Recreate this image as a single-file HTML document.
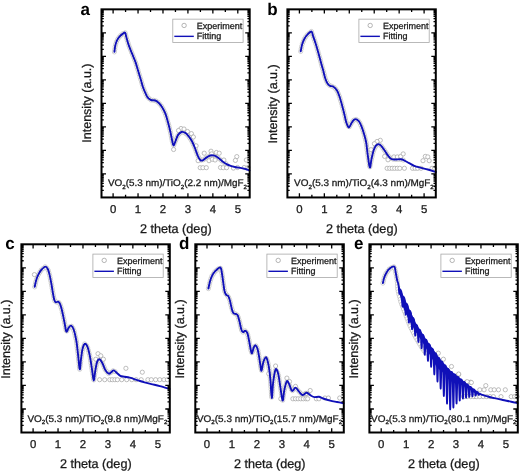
<!DOCTYPE html>
<html><head><meta charset="utf-8"><title>XRR fitting</title>
<style>
html,body{margin:0;padding:0;background:#fff;}
svg{display:block;font-family:'Liberation Sans', Arial, Helvetica, sans-serif;text-rendering:geometricPrecision;}
text{stroke:#1a1a1a;stroke-width:0.28px;}
text.pl{stroke:none;}
</style></head><body>
<svg width="520" height="472" viewBox="0 0 520 472">
<rect width="520" height="472" fill="#fff"/>
<g fill="#fff" stroke="#a2a2a2" stroke-width="0.7"><circle cx="114.4" cy="51.9" r="2.1" stroke="#bcbcbc"/><circle cx="114.8" cy="49.3" r="2.1" stroke="#bcbcbc"/><circle cx="115.1" cy="46.7" r="2.1" stroke="#bcbcbc"/><circle cx="115.7" cy="44.2" r="2.1" stroke="#bcbcbc"/><circle cx="116.5" cy="41.8" r="2.1" stroke="#bcbcbc"/><circle cx="117.6" cy="39.4" r="2.1" stroke="#bcbcbc"/><circle cx="119.1" cy="37.3" r="2.1" stroke="#bcbcbc"/><circle cx="120.8" cy="35.4" r="2.1" stroke="#bcbcbc"/><circle cx="122.8" cy="33.7" r="2.1" stroke="#bcbcbc"/><circle cx="125.1" cy="32.8" r="2.1" stroke="#bcbcbc"/><circle cx="125.8" cy="35.3" r="2.1" stroke="#bcbcbc"/><circle cx="126.5" cy="37.8" r="2.1" stroke="#bcbcbc"/><circle cx="127.3" cy="40.3" r="2.1" stroke="#bcbcbc"/><circle cx="128.0" cy="42.8" r="2.1" stroke="#bcbcbc"/><circle cx="128.8" cy="45.3" r="2.1" stroke="#bcbcbc"/><circle cx="129.7" cy="47.7" r="2.1" stroke="#bcbcbc"/><circle cx="130.7" cy="50.1" r="2.1" stroke="#bcbcbc"/><circle cx="131.6" cy="52.5" r="2.1" stroke="#bcbcbc"/><circle cx="132.6" cy="54.9" r="2.1" stroke="#bcbcbc"/><circle cx="133.6" cy="57.3" r="2.1" stroke="#bcbcbc"/><circle cx="134.5" cy="59.8" r="2.1" stroke="#bcbcbc"/><circle cx="135.5" cy="62.2" r="2.1" stroke="#bcbcbc"/><circle cx="136.3" cy="64.6" r="2.1" stroke="#bcbcbc"/><circle cx="137.0" cy="67.1" r="2.1" stroke="#bcbcbc"/><circle cx="137.8" cy="69.6" r="2.1" stroke="#bcbcbc"/><circle cx="138.5" cy="72.1" r="2.1" stroke="#bcbcbc"/><circle cx="139.3" cy="74.6" r="2.1" stroke="#bcbcbc"/><circle cx="140.0" cy="77.1" r="2.1" stroke="#bcbcbc"/><circle cx="140.8" cy="79.6" r="2.1" stroke="#bcbcbc"/><circle cx="141.5" cy="82.1" r="2.1" stroke="#bcbcbc"/><circle cx="142.3" cy="84.6" r="2.1" stroke="#bcbcbc"/><circle cx="143.0" cy="87.1" r="2.1" stroke="#bcbcbc"/><circle cx="143.9" cy="89.5" r="2.1" stroke="#bcbcbc"/><circle cx="144.9" cy="91.9" r="2.1" stroke="#bcbcbc"/><circle cx="146.0" cy="94.2" r="2.1" stroke="#bcbcbc"/><circle cx="147.2" cy="96.5" r="2.1" stroke="#bcbcbc"/><circle cx="148.9" cy="98.4" r="2.1" stroke="#bcbcbc"/><circle cx="151.0" cy="100.0" r="2.1" stroke="#bcbcbc"/><circle cx="153.6" cy="100.3" r="2.1" stroke="#bcbcbc"/><circle cx="156.0" cy="101.0" r="2.1" stroke="#bcbcbc"/><circle cx="158.2" cy="102.4" r="2.1" stroke="#bcbcbc"/><circle cx="159.9" cy="104.3" r="2.1" stroke="#bcbcbc"/><circle cx="161.6" cy="106.4" r="2.1" stroke="#bcbcbc"/><circle cx="162.9" cy="108.6" r="2.1" stroke="#bcbcbc"/><circle cx="164.0" cy="110.9" r="2.1" stroke="#bcbcbc"/><circle cx="165.2" cy="113.3" r="2.1" stroke="#bcbcbc"/><circle cx="166.0" cy="115.7" r="2.1" stroke="#bcbcbc"/><circle cx="166.8" cy="118.2" r="2.1" stroke="#bcbcbc"/><circle cx="167.5" cy="120.7" r="2.1" stroke="#bcbcbc"/><circle cx="168.2" cy="123.2" r="2.1" stroke="#bcbcbc"/><circle cx="168.9" cy="125.7" r="2.1" stroke="#bcbcbc"/><circle cx="169.5" cy="128.2" r="2.1" stroke="#bcbcbc"/><circle cx="170.1" cy="130.8" r="2.1" stroke="#bcbcbc"/><circle cx="170.7" cy="133.3" r="2.1" stroke="#bcbcbc"/><circle cx="171.2" cy="135.8" r="2.1" stroke="#bcbcbc"/><circle cx="171.7" cy="138.4" r="2.1" stroke="#bcbcbc"/><circle cx="172.2" cy="140.9" r="2.1" stroke="#bcbcbc"/><circle cx="173.0" cy="143.4" r="2.1" stroke="#bcbcbc"/><circle cx="173.7" cy="145.3" r="2.1" stroke="#bcbcbc"/><circle cx="174.7" cy="142.9" r="2.1" stroke="#bcbcbc"/><circle cx="175.7" cy="140.5" r="2.1" stroke="#bcbcbc"/><circle cx="176.7" cy="138.1" r="2.1" stroke="#bcbcbc"/><circle cx="177.8" cy="135.7" r="2.1" stroke="#bcbcbc"/><circle cx="179.4" cy="133.8" r="2.1" stroke="#bcbcbc"/><circle cx="181.4" cy="132.1" r="2.1" stroke="#bcbcbc"/><circle cx="183.9" cy="132.5" r="2.1" stroke="#bcbcbc"/><circle cx="186.1" cy="133.8" r="2.1" stroke="#bcbcbc"/><circle cx="188.0" cy="135.5" r="2.1" stroke="#bcbcbc"/><circle cx="189.5" cy="137.6" r="2.1" stroke="#bcbcbc"/><circle cx="191.0" cy="139.8" r="2.1" stroke="#bcbcbc"/><circle cx="192.2" cy="142.0" r="2.1" stroke="#bcbcbc"/><circle cx="193.3" cy="144.4" r="2.1" stroke="#bcbcbc"/><circle cx="194.3" cy="146.8" r="2.1" stroke="#bcbcbc"/><circle cx="195.4" cy="149.2" r="2.1" stroke="#bcbcbc"/><circle cx="196.2" cy="151.6" r="2.1" stroke="#bcbcbc"/><circle cx="197.1" cy="154.1" r="2.1" stroke="#bcbcbc"/><circle cx="198.2" cy="156.4" r="2.1" stroke="#bcbcbc"/><circle cx="199.5" cy="158.7" r="2.1" stroke="#bcbcbc"/><circle cx="201.3" cy="160.2" r="2.1" stroke="#bcbcbc"/><circle cx="203.6" cy="159.7" r="2.1" stroke="#bcbcbc"/><circle cx="205.7" cy="158.1" r="2.1" stroke="#bcbcbc"/><circle cx="207.9" cy="156.8" r="2.1" stroke="#bcbcbc"/><circle cx="210.2" cy="155.5" r="2.1" stroke="#bcbcbc"/><circle cx="212.8" cy="155.6" r="2.1" stroke="#bcbcbc"/><circle cx="215.3" cy="156.2" r="2.1" stroke="#bcbcbc"/><circle cx="217.5" cy="157.5" r="2.1" stroke="#bcbcbc"/><circle cx="219.6" cy="159.0" r="2.1" stroke="#bcbcbc"/><circle cx="221.6" cy="160.7" r="2.1" stroke="#bcbcbc"/><circle cx="223.7" cy="162.2" r="2.1" stroke="#bcbcbc"/><circle cx="225.9" cy="163.6" r="2.1" stroke="#bcbcbc"/><circle cx="173.6" cy="149.5" r="2.1"/><circle cx="191.4" cy="133.6" r="2.1"/><circle cx="193.4" cy="137.0" r="2.1"/><circle cx="196.1" cy="145.8" r="2.1"/><circle cx="204.2" cy="153.2" r="2.1"/><circle cx="211.0" cy="151.2" r="2.1"/><circle cx="211.7" cy="153.9" r="2.1"/><circle cx="216.4" cy="152.5" r="2.1"/><circle cx="219.2" cy="153.2" r="2.1"/><circle cx="198.1" cy="160.7" r="2.1"/><circle cx="209.0" cy="160.7" r="2.1"/><circle cx="212.4" cy="159.3" r="2.1"/><circle cx="215.1" cy="160.0" r="2.1"/><circle cx="223.9" cy="160.0" r="2.1"/><circle cx="200.2" cy="167.7" r="2.1"/><circle cx="202.9" cy="167.7" r="2.1"/><circle cx="206.3" cy="167.7" r="2.1"/><circle cx="220.5" cy="167.5" r="2.1"/><circle cx="223.2" cy="167.7" r="2.1"/><circle cx="226.6" cy="167.7" r="2.1"/><circle cx="236.8" cy="156.6" r="2.1"/><circle cx="235.4" cy="160.4" r="2.1"/><circle cx="246.3" cy="160.0" r="2.1"/><circle cx="233.4" cy="168.1" r="2.1"/><circle cx="237.5" cy="167.5" r="2.1"/><circle cx="244.2" cy="167.5" r="2.1"/><circle cx="248.0" cy="167.5" r="2.1"/><circle cx="181.0" cy="128.5" r="2.1"/><circle cx="184.0" cy="129.0" r="2.1"/><circle cx="187.5" cy="131.5" r="2.1"/><circle cx="178.5" cy="130.5" r="2.1"/></g>
<path d="M114.40 51.90 C114.55 50.82 114.87 47.33 115.30 45.40 C115.73 43.47 116.30 41.77 117.00 40.30 C117.70 38.83 118.52 37.72 119.50 36.60 C120.48 35.48 121.97 34.25 122.90 33.60 C123.83 32.95 124.53 32.13 125.10 32.70 C125.67 33.27 125.68 34.88 126.30 37.00 C126.92 39.12 127.82 42.58 128.80 45.40 C129.78 48.22 131.07 51.07 132.20 53.90 C133.33 56.73 134.62 59.58 135.60 62.40 C136.58 65.22 137.25 67.98 138.10 70.80 C138.95 73.62 139.85 76.47 140.70 79.30 C141.55 82.13 142.40 85.48 143.20 87.80 C144.00 90.12 144.73 91.57 145.50 93.20 C146.27 94.83 146.88 96.47 147.80 97.60 C148.72 98.73 149.75 99.52 151.00 100.00 C152.25 100.48 154.03 100.05 155.30 100.50 C156.57 100.95 157.48 101.63 158.60 102.70 C159.72 103.77 160.87 105.07 162.00 106.90 C163.13 108.73 164.40 111.15 165.40 113.70 C166.40 116.25 167.15 119.08 168.00 122.20 C168.85 125.32 169.80 129.30 170.50 132.40 C171.20 135.50 171.68 138.60 172.20 140.80 C172.72 143.00 173.03 145.60 173.60 145.60 C174.17 145.60 174.85 142.58 175.60 140.80 C176.35 139.02 177.12 136.37 178.10 134.90 C179.08 133.43 180.37 132.37 181.50 132.00 C182.63 131.63 183.77 132.07 184.90 132.70 C186.03 133.33 187.17 134.45 188.30 135.80 C189.43 137.15 190.57 138.68 191.70 140.80 C192.83 142.92 194.12 146.08 195.10 148.50 C196.08 150.92 196.75 153.38 197.60 155.30 C198.45 157.22 199.35 159.15 200.20 160.00 C201.05 160.85 201.68 160.80 202.70 160.40 C203.72 160.00 205.03 158.42 206.30 157.60 C207.57 156.78 208.95 155.82 210.30 155.50 C211.65 155.18 213.03 155.28 214.40 155.70 C215.77 156.12 217.15 157.05 218.50 158.00 C219.85 158.95 221.15 160.38 222.50 161.40 C223.85 162.42 225.23 163.37 226.60 164.10 C227.97 164.83 229.12 165.28 230.70 165.80 C232.28 166.32 234.30 166.82 236.10 167.20 C237.90 167.58 239.70 167.72 241.50 168.10 C243.30 168.48 245.57 169.10 246.90 169.50 C248.23 169.90 249.07 170.33 249.50 170.50" fill="none" stroke="#1010b8" stroke-width="1.9" stroke-linejoin="round" stroke-linecap="round"/>
<rect x="101.50" y="9.35" width="148.20" height="188.10" fill="none" stroke="#000" stroke-width="2"/>
<path d="M113.10 197.45 v-4.20 M113.10 9.35 v4.20 M125.57 197.45 v-2.60 M125.57 9.35 v2.60 M138.04 197.45 v-4.20 M138.04 9.35 v4.20 M150.51 197.45 v-2.60 M150.51 9.35 v2.60 M162.98 197.45 v-4.20 M162.98 9.35 v4.20 M175.45 197.45 v-2.60 M175.45 9.35 v2.60 M187.92 197.45 v-4.20 M187.92 9.35 v4.20 M200.39 197.45 v-2.60 M200.39 9.35 v2.60 M212.86 197.45 v-4.20 M212.86 9.35 v4.20 M225.33 197.45 v-2.60 M225.33 9.35 v2.60 M237.80 197.45 v-4.20 M237.80 9.35 v4.20 M101.50 25.78 h2.30 M249.70 25.78 h-2.30 M101.50 21.64 h2.30 M249.70 21.64 h-2.30 M101.50 18.71 h2.30 M249.70 18.71 h-2.30 M101.50 16.43 h2.30 M249.70 16.43 h-2.30 M101.50 14.57 h2.30 M249.70 14.57 h-2.30 M101.50 12.99 h2.30 M249.70 12.99 h-2.30 M101.50 11.63 h2.30 M249.70 11.63 h-2.30 M101.50 10.43 h2.30 M249.70 10.43 h-2.30 M101.50 32.86 h4.50 M249.70 32.86 h-4.50 M101.50 49.30 h2.30 M249.70 49.30 h-2.30 M101.50 45.16 h2.30 M249.70 45.16 h-2.30 M101.50 42.22 h2.30 M249.70 42.22 h-2.30 M101.50 39.94 h2.30 M249.70 39.94 h-2.30 M101.50 38.08 h2.30 M249.70 38.08 h-2.30 M101.50 36.50 h2.30 M249.70 36.50 h-2.30 M101.50 35.14 h2.30 M249.70 35.14 h-2.30 M101.50 33.94 h2.30 M249.70 33.94 h-2.30 M101.50 56.38 h4.50 M249.70 56.38 h-4.50 M101.50 72.81 h2.30 M249.70 72.81 h-2.30 M101.50 68.67 h2.30 M249.70 68.67 h-2.30 M101.50 65.73 h2.30 M249.70 65.73 h-2.30 M101.50 63.45 h2.30 M249.70 63.45 h-2.30 M101.50 61.59 h2.30 M249.70 61.59 h-2.30 M101.50 60.02 h2.30 M249.70 60.02 h-2.30 M101.50 58.65 h2.30 M249.70 58.65 h-2.30 M101.50 57.45 h2.30 M249.70 57.45 h-2.30 M101.50 79.89 h4.50 M249.70 79.89 h-4.50 M101.50 96.32 h2.30 M249.70 96.32 h-2.30 M101.50 92.18 h2.30 M249.70 92.18 h-2.30 M101.50 89.24 h2.30 M249.70 89.24 h-2.30 M101.50 86.97 h2.30 M249.70 86.97 h-2.30 M101.50 85.10 h2.30 M249.70 85.10 h-2.30 M101.50 83.53 h2.30 M249.70 83.53 h-2.30 M101.50 82.17 h2.30 M249.70 82.17 h-2.30 M101.50 80.96 h2.30 M249.70 80.96 h-2.30 M101.50 103.40 h4.50 M249.70 103.40 h-4.50 M101.50 119.83 h2.30 M249.70 119.83 h-2.30 M101.50 115.69 h2.30 M249.70 115.69 h-2.30 M101.50 112.76 h2.30 M249.70 112.76 h-2.30 M101.50 110.48 h2.30 M249.70 110.48 h-2.30 M101.50 108.62 h2.30 M249.70 108.62 h-2.30 M101.50 107.04 h2.30 M249.70 107.04 h-2.30 M101.50 105.68 h2.30 M249.70 105.68 h-2.30 M101.50 104.48 h2.30 M249.70 104.48 h-2.30 M101.50 126.91 h4.50 M249.70 126.91 h-4.50 M101.50 143.35 h2.30 M249.70 143.35 h-2.30 M101.50 139.21 h2.30 M249.70 139.21 h-2.30 M101.50 136.27 h2.30 M249.70 136.27 h-2.30 M101.50 133.99 h2.30 M249.70 133.99 h-2.30 M101.50 132.13 h2.30 M249.70 132.13 h-2.30 M101.50 130.55 h2.30 M249.70 130.55 h-2.30 M101.50 129.19 h2.30 M249.70 129.19 h-2.30 M101.50 127.99 h2.30 M249.70 127.99 h-2.30 M101.50 150.42 h4.50 M249.70 150.42 h-4.50 M101.50 166.86 h2.30 M249.70 166.86 h-2.30 M101.50 162.72 h2.30 M249.70 162.72 h-2.30 M101.50 159.78 h2.30 M249.70 159.78 h-2.30 M101.50 157.50 h2.30 M249.70 157.50 h-2.30 M101.50 155.64 h2.30 M249.70 155.64 h-2.30 M101.50 154.07 h2.30 M249.70 154.07 h-2.30 M101.50 152.70 h2.30 M249.70 152.70 h-2.30 M101.50 151.50 h2.30 M249.70 151.50 h-2.30 M101.50 173.94 h4.50 M249.70 173.94 h-4.50 M101.50 190.37 h2.30 M249.70 190.37 h-2.30 M101.50 186.23 h2.30 M249.70 186.23 h-2.30 M101.50 183.29 h2.30 M249.70 183.29 h-2.30 M101.50 181.02 h2.30 M249.70 181.02 h-2.30 M101.50 179.15 h2.30 M249.70 179.15 h-2.30 M101.50 177.58 h2.30 M249.70 177.58 h-2.30 M101.50 176.22 h2.30 M249.70 176.22 h-2.30 M101.50 175.01 h2.30 M249.70 175.01 h-2.30" stroke="#000" stroke-width="1.3" fill="none"/>
<text x="113.10" y="212.95" font-size="11.4" text-anchor="middle" fill="#1a1a1a">0</text>
<text x="138.04" y="212.95" font-size="11.4" text-anchor="middle" fill="#1a1a1a">1</text>
<text x="162.98" y="212.95" font-size="11.4" text-anchor="middle" fill="#1a1a1a">2</text>
<text x="187.92" y="212.95" font-size="11.4" text-anchor="middle" fill="#1a1a1a">3</text>
<text x="212.86" y="212.95" font-size="11.4" text-anchor="middle" fill="#1a1a1a">4</text>
<text x="237.80" y="212.95" font-size="11.4" text-anchor="middle" fill="#1a1a1a">5</text>
<text x="175.80" y="232.95" font-size="12.65" text-anchor="middle" fill="#1a1a1a">2 theta (deg)</text>
<text transform="translate(90.50 103.10) rotate(-90)" font-size="12.5" text-anchor="middle" fill="#1a1a1a">Intensity (a.u.)</text>
<text x="80.60" y="14.70" class="pl" font-size="17" font-weight="bold" fill="#000">a</text>
<rect x="172.80" y="19.15" width="70.30" height="23.30" fill="#fff" stroke="#a8a8a8" stroke-width="0.8"/>
<circle cx="184.10" cy="25.45" r="2.2" fill="#fff" stroke="#a2a2a2" stroke-width="0.8"/>
<path d="M174.30 36.35 h19.5" stroke="#1010b8" stroke-width="1.4"/>
<text x="196.80" y="28.55" font-size="9" fill="#1a1a1a">Experiment</text>
<text x="196.80" y="39.35" font-size="9" fill="#1a1a1a">Fitting</text>
<text transform="translate(107.90 186.30) scale(1.0270 1)" font-size="9.65" fill="#1a1a1a">VO<tspan font-size="6" dy="2.3">2</tspan><tspan dy="-2.3">(5.3 nm)/TiO</tspan><tspan font-size="6" dy="2.3">2</tspan><tspan dy="-2.3">(2.2 nm)/MgF</tspan><tspan font-size="6" dy="2.3">2</tspan></text>
<g fill="#fff" stroke="#a2a2a2" stroke-width="0.7"><circle cx="300.7" cy="51.4" r="2.1" stroke="#bcbcbc"/><circle cx="301.2" cy="48.9" r="2.1" stroke="#bcbcbc"/><circle cx="301.7" cy="46.3" r="2.1" stroke="#bcbcbc"/><circle cx="302.4" cy="43.8" r="2.1" stroke="#bcbcbc"/><circle cx="303.4" cy="41.4" r="2.1" stroke="#bcbcbc"/><circle cx="304.3" cy="39.0" r="2.1" stroke="#bcbcbc"/><circle cx="305.8" cy="36.8" r="2.1" stroke="#bcbcbc"/><circle cx="307.4" cy="34.8" r="2.1" stroke="#bcbcbc"/><circle cx="309.4" cy="33.1" r="2.1" stroke="#bcbcbc"/><circle cx="311.4" cy="31.5" r="2.1" stroke="#bcbcbc"/><circle cx="312.3" cy="34.0" r="2.1" stroke="#bcbcbc"/><circle cx="313.2" cy="36.4" r="2.1" stroke="#bcbcbc"/><circle cx="314.0" cy="38.9" r="2.1" stroke="#bcbcbc"/><circle cx="314.9" cy="41.3" r="2.1" stroke="#bcbcbc"/><circle cx="315.7" cy="43.8" r="2.1" stroke="#bcbcbc"/><circle cx="316.5" cy="46.3" r="2.1" stroke="#bcbcbc"/><circle cx="317.2" cy="48.8" r="2.1" stroke="#bcbcbc"/><circle cx="317.9" cy="51.3" r="2.1" stroke="#bcbcbc"/><circle cx="318.6" cy="53.8" r="2.1" stroke="#bcbcbc"/><circle cx="319.3" cy="56.3" r="2.1" stroke="#bcbcbc"/><circle cx="320.0" cy="58.8" r="2.1" stroke="#bcbcbc"/><circle cx="320.6" cy="61.3" r="2.1" stroke="#bcbcbc"/><circle cx="321.3" cy="63.8" r="2.1" stroke="#bcbcbc"/><circle cx="322.0" cy="66.3" r="2.1" stroke="#bcbcbc"/><circle cx="322.7" cy="68.8" r="2.1" stroke="#bcbcbc"/><circle cx="323.4" cy="71.3" r="2.1" stroke="#bcbcbc"/><circle cx="324.1" cy="73.8" r="2.1" stroke="#bcbcbc"/><circle cx="324.7" cy="76.3" r="2.1" stroke="#bcbcbc"/><circle cx="325.5" cy="78.8" r="2.1" stroke="#bcbcbc"/><circle cx="326.5" cy="81.2" r="2.1" stroke="#bcbcbc"/><circle cx="327.7" cy="83.5" r="2.1" stroke="#bcbcbc"/><circle cx="329.6" cy="85.3" r="2.1" stroke="#bcbcbc"/><circle cx="331.9" cy="86.3" r="2.1" stroke="#bcbcbc"/><circle cx="334.1" cy="87.4" r="2.1" stroke="#bcbcbc"/><circle cx="335.9" cy="89.3" r="2.1" stroke="#bcbcbc"/><circle cx="337.4" cy="91.4" r="2.1" stroke="#bcbcbc"/><circle cx="338.4" cy="93.8" r="2.1" stroke="#bcbcbc"/><circle cx="339.4" cy="96.2" r="2.1" stroke="#bcbcbc"/><circle cx="340.1" cy="98.7" r="2.1" stroke="#bcbcbc"/><circle cx="340.9" cy="101.2" r="2.1" stroke="#bcbcbc"/><circle cx="341.6" cy="103.7" r="2.1" stroke="#bcbcbc"/><circle cx="342.3" cy="106.2" r="2.1" stroke="#bcbcbc"/><circle cx="343.0" cy="108.7" r="2.1" stroke="#bcbcbc"/><circle cx="343.6" cy="111.2" r="2.1" stroke="#bcbcbc"/><circle cx="344.3" cy="113.7" r="2.1" stroke="#bcbcbc"/><circle cx="344.9" cy="116.3" r="2.1" stroke="#bcbcbc"/><circle cx="345.5" cy="118.8" r="2.1" stroke="#bcbcbc"/><circle cx="346.0" cy="121.3" r="2.1" stroke="#bcbcbc"/><circle cx="347.0" cy="123.7" r="2.1" stroke="#bcbcbc"/><circle cx="348.2" cy="126.1" r="2.1" stroke="#bcbcbc"/><circle cx="349.4" cy="126.7" r="2.1" stroke="#bcbcbc"/><circle cx="350.7" cy="124.4" r="2.1" stroke="#bcbcbc"/><circle cx="352.1" cy="122.2" r="2.1" stroke="#bcbcbc"/><circle cx="353.7" cy="120.2" r="2.1" stroke="#bcbcbc"/><circle cx="356.1" cy="119.4" r="2.1" stroke="#bcbcbc"/><circle cx="358.2" cy="120.7" r="2.1" stroke="#bcbcbc"/><circle cx="359.7" cy="122.7" r="2.1" stroke="#bcbcbc"/><circle cx="360.8" cy="125.1" r="2.1" stroke="#bcbcbc"/><circle cx="361.9" cy="127.4" r="2.1" stroke="#bcbcbc"/><circle cx="362.7" cy="129.9" r="2.1" stroke="#bcbcbc"/><circle cx="363.5" cy="132.4" r="2.1" stroke="#bcbcbc"/><circle cx="364.3" cy="134.9" r="2.1" stroke="#bcbcbc"/><circle cx="364.9" cy="137.4" r="2.1" stroke="#bcbcbc"/><circle cx="365.5" cy="139.9" r="2.1" stroke="#bcbcbc"/><circle cx="366.1" cy="142.4" r="2.1" stroke="#bcbcbc"/><circle cx="366.5" cy="145.0" r="2.1" stroke="#bcbcbc"/><circle cx="366.8" cy="147.6" r="2.1" stroke="#bcbcbc"/><circle cx="367.1" cy="150.2" r="2.1" stroke="#bcbcbc"/><circle cx="367.5" cy="152.8" r="2.1" stroke="#bcbcbc"/><circle cx="367.8" cy="155.3" r="2.1" stroke="#bcbcbc"/><circle cx="368.2" cy="157.9" r="2.1" stroke="#bcbcbc"/><circle cx="368.7" cy="160.5" r="2.1" stroke="#bcbcbc"/><circle cx="369.1" cy="163.0" r="2.1" stroke="#bcbcbc"/><circle cx="369.5" cy="165.6" r="2.1" stroke="#bcbcbc"/><circle cx="369.9" cy="166.8" r="2.1" stroke="#bcbcbc"/><circle cx="370.4" cy="164.3" r="2.1" stroke="#bcbcbc"/><circle cx="371.0" cy="161.7" r="2.1" stroke="#bcbcbc"/><circle cx="371.5" cy="159.2" r="2.1" stroke="#bcbcbc"/><circle cx="372.1" cy="156.7" r="2.1" stroke="#bcbcbc"/><circle cx="372.7" cy="154.1" r="2.1" stroke="#bcbcbc"/><circle cx="373.3" cy="151.6" r="2.1" stroke="#bcbcbc"/><circle cx="374.2" cy="149.2" r="2.1" stroke="#bcbcbc"/><circle cx="375.4" cy="146.9" r="2.1" stroke="#bcbcbc"/><circle cx="377.0" cy="145.0" r="2.1" stroke="#bcbcbc"/><circle cx="379.3" cy="144.6" r="2.1" stroke="#bcbcbc"/><circle cx="381.4" cy="146.1" r="2.1" stroke="#bcbcbc"/><circle cx="382.9" cy="148.2" r="2.1" stroke="#bcbcbc"/><circle cx="384.4" cy="150.3" r="2.1" stroke="#bcbcbc"/><circle cx="385.9" cy="152.4" r="2.1" stroke="#bcbcbc"/><circle cx="387.3" cy="154.6" r="2.1" stroke="#bcbcbc"/><circle cx="389.0" cy="156.6" r="2.1" stroke="#bcbcbc"/><circle cx="390.8" cy="158.4" r="2.1" stroke="#bcbcbc"/><circle cx="393.2" cy="159.2" r="2.1" stroke="#bcbcbc"/><circle cx="395.8" cy="159.5" r="2.1" stroke="#bcbcbc"/><circle cx="398.4" cy="159.4" r="2.1" stroke="#bcbcbc"/><circle cx="401.0" cy="159.4" r="2.1" stroke="#bcbcbc"/><circle cx="403.4" cy="160.1" r="2.1" stroke="#bcbcbc"/><circle cx="380.3" cy="140.3" r="2.1"/><circle cx="377.0" cy="141.5" r="2.1"/><circle cx="374.4" cy="143.7" r="2.1"/><circle cx="371.0" cy="149.7" r="2.1"/><circle cx="384.6" cy="156.4" r="2.1"/><circle cx="388.0" cy="159.8" r="2.1"/><circle cx="393.9" cy="156.9" r="2.1"/><circle cx="397.3" cy="156.9" r="2.1"/><circle cx="400.7" cy="156.4" r="2.1"/><circle cx="403.2" cy="153.9" r="2.1"/><circle cx="425.3" cy="156.4" r="2.1"/><circle cx="427.8" cy="156.9" r="2.1"/><circle cx="423.0" cy="160.7" r="2.1"/><circle cx="429.2" cy="160.7" r="2.1"/><circle cx="387.1" cy="168.3" r="2.1"/><circle cx="389.7" cy="168.3" r="2.1"/><circle cx="392.2" cy="168.3" r="2.1"/><circle cx="394.7" cy="168.3" r="2.1"/><circle cx="397.3" cy="168.3" r="2.1"/><circle cx="399.8" cy="168.3" r="2.1"/><circle cx="404.4" cy="168.3" r="2.1"/><circle cx="412.5" cy="168.3" r="2.1"/><circle cx="415.1" cy="168.3" r="2.1"/><circle cx="417.6" cy="168.3" r="2.1"/><circle cx="421.0" cy="168.3" r="2.1"/><circle cx="432.0" cy="168.3" r="2.1"/><circle cx="434.6" cy="168.3" r="2.1"/></g>
<path d="M300.70 51.40 C300.93 50.27 301.50 46.67 302.10 44.60 C302.70 42.53 303.45 40.62 304.30 39.00 C305.15 37.38 306.02 36.15 307.20 34.90 C308.38 33.65 310.42 31.30 311.40 31.50 C312.38 31.70 312.38 34.07 313.10 36.10 C313.82 38.13 314.85 41.02 315.70 43.70 C316.55 46.38 317.37 49.23 318.20 52.20 C319.03 55.17 319.85 58.40 320.70 61.50 C321.55 64.60 322.53 67.97 323.30 70.80 C324.07 73.63 324.60 76.40 325.30 78.50 C326.00 80.60 326.70 82.18 327.50 83.40 C328.30 84.62 329.10 85.25 330.10 85.80 C331.10 86.35 332.35 85.92 333.50 86.70 C334.65 87.48 336.00 88.87 337.00 90.50 C338.00 92.13 338.65 94.02 339.50 96.50 C340.35 98.98 341.30 102.50 342.10 105.40 C342.90 108.30 343.60 111.07 344.30 113.90 C345.00 116.73 345.53 120.13 346.30 122.40 C347.07 124.67 348.05 127.37 348.90 127.50 C349.75 127.63 350.55 124.48 351.40 123.20 C352.25 121.92 353.15 120.45 354.00 119.80 C354.85 119.15 355.65 119.02 356.50 119.30 C357.35 119.58 358.25 120.28 359.10 121.50 C359.95 122.72 360.77 124.48 361.60 126.60 C362.43 128.72 363.33 131.52 364.10 134.20 C364.87 136.88 365.62 139.42 366.20 142.70 C366.78 145.98 367.00 149.77 367.60 153.90 C368.20 158.03 369.15 166.65 369.80 167.50 C370.45 168.35 370.87 161.83 371.50 159.00 C372.13 156.17 372.83 152.77 373.60 150.50 C374.37 148.23 375.27 146.45 376.10 145.40 C376.93 144.35 377.75 144.13 378.60 144.20 C379.45 144.27 380.20 144.75 381.20 145.80 C382.20 146.85 383.47 148.87 384.60 150.50 C385.73 152.13 386.87 154.18 388.00 155.60 C389.13 157.02 390.13 158.35 391.40 159.00 C392.67 159.65 394.05 159.45 395.60 159.50 C397.15 159.55 399.28 159.17 400.70 159.30 C402.12 159.43 402.68 159.65 404.10 160.30 C405.52 160.95 407.52 162.28 409.20 163.20 C410.88 164.12 412.23 165.03 414.20 165.80 C416.17 166.57 418.73 167.18 421.00 167.80 C423.27 168.42 425.30 168.80 427.80 169.50 C430.30 170.20 434.63 171.58 436.00 172.00" fill="none" stroke="#1010b8" stroke-width="1.9" stroke-linejoin="round" stroke-linecap="round"/>
<rect x="287.40" y="9.35" width="148.40" height="188.10" fill="none" stroke="#000" stroke-width="2"/>
<path d="M299.40 197.45 v-4.20 M299.40 9.35 v4.20 M311.87 197.45 v-2.60 M311.87 9.35 v2.60 M324.34 197.45 v-4.20 M324.34 9.35 v4.20 M336.81 197.45 v-2.60 M336.81 9.35 v2.60 M349.28 197.45 v-4.20 M349.28 9.35 v4.20 M361.75 197.45 v-2.60 M361.75 9.35 v2.60 M374.22 197.45 v-4.20 M374.22 9.35 v4.20 M386.69 197.45 v-2.60 M386.69 9.35 v2.60 M399.16 197.45 v-4.20 M399.16 9.35 v4.20 M411.63 197.45 v-2.60 M411.63 9.35 v2.60 M424.10 197.45 v-4.20 M424.10 9.35 v4.20 M287.40 25.78 h2.30 M435.80 25.78 h-2.30 M287.40 21.64 h2.30 M435.80 21.64 h-2.30 M287.40 18.71 h2.30 M435.80 18.71 h-2.30 M287.40 16.43 h2.30 M435.80 16.43 h-2.30 M287.40 14.57 h2.30 M435.80 14.57 h-2.30 M287.40 12.99 h2.30 M435.80 12.99 h-2.30 M287.40 11.63 h2.30 M435.80 11.63 h-2.30 M287.40 10.43 h2.30 M435.80 10.43 h-2.30 M287.40 32.86 h4.50 M435.80 32.86 h-4.50 M287.40 49.30 h2.30 M435.80 49.30 h-2.30 M287.40 45.16 h2.30 M435.80 45.16 h-2.30 M287.40 42.22 h2.30 M435.80 42.22 h-2.30 M287.40 39.94 h2.30 M435.80 39.94 h-2.30 M287.40 38.08 h2.30 M435.80 38.08 h-2.30 M287.40 36.50 h2.30 M435.80 36.50 h-2.30 M287.40 35.14 h2.30 M435.80 35.14 h-2.30 M287.40 33.94 h2.30 M435.80 33.94 h-2.30 M287.40 56.38 h4.50 M435.80 56.38 h-4.50 M287.40 72.81 h2.30 M435.80 72.81 h-2.30 M287.40 68.67 h2.30 M435.80 68.67 h-2.30 M287.40 65.73 h2.30 M435.80 65.73 h-2.30 M287.40 63.45 h2.30 M435.80 63.45 h-2.30 M287.40 61.59 h2.30 M435.80 61.59 h-2.30 M287.40 60.02 h2.30 M435.80 60.02 h-2.30 M287.40 58.65 h2.30 M435.80 58.65 h-2.30 M287.40 57.45 h2.30 M435.80 57.45 h-2.30 M287.40 79.89 h4.50 M435.80 79.89 h-4.50 M287.40 96.32 h2.30 M435.80 96.32 h-2.30 M287.40 92.18 h2.30 M435.80 92.18 h-2.30 M287.40 89.24 h2.30 M435.80 89.24 h-2.30 M287.40 86.97 h2.30 M435.80 86.97 h-2.30 M287.40 85.10 h2.30 M435.80 85.10 h-2.30 M287.40 83.53 h2.30 M435.80 83.53 h-2.30 M287.40 82.17 h2.30 M435.80 82.17 h-2.30 M287.40 80.96 h2.30 M435.80 80.96 h-2.30 M287.40 103.40 h4.50 M435.80 103.40 h-4.50 M287.40 119.83 h2.30 M435.80 119.83 h-2.30 M287.40 115.69 h2.30 M435.80 115.69 h-2.30 M287.40 112.76 h2.30 M435.80 112.76 h-2.30 M287.40 110.48 h2.30 M435.80 110.48 h-2.30 M287.40 108.62 h2.30 M435.80 108.62 h-2.30 M287.40 107.04 h2.30 M435.80 107.04 h-2.30 M287.40 105.68 h2.30 M435.80 105.68 h-2.30 M287.40 104.48 h2.30 M435.80 104.48 h-2.30 M287.40 126.91 h4.50 M435.80 126.91 h-4.50 M287.40 143.35 h2.30 M435.80 143.35 h-2.30 M287.40 139.21 h2.30 M435.80 139.21 h-2.30 M287.40 136.27 h2.30 M435.80 136.27 h-2.30 M287.40 133.99 h2.30 M435.80 133.99 h-2.30 M287.40 132.13 h2.30 M435.80 132.13 h-2.30 M287.40 130.55 h2.30 M435.80 130.55 h-2.30 M287.40 129.19 h2.30 M435.80 129.19 h-2.30 M287.40 127.99 h2.30 M435.80 127.99 h-2.30 M287.40 150.42 h4.50 M435.80 150.42 h-4.50 M287.40 166.86 h2.30 M435.80 166.86 h-2.30 M287.40 162.72 h2.30 M435.80 162.72 h-2.30 M287.40 159.78 h2.30 M435.80 159.78 h-2.30 M287.40 157.50 h2.30 M435.80 157.50 h-2.30 M287.40 155.64 h2.30 M435.80 155.64 h-2.30 M287.40 154.07 h2.30 M435.80 154.07 h-2.30 M287.40 152.70 h2.30 M435.80 152.70 h-2.30 M287.40 151.50 h2.30 M435.80 151.50 h-2.30 M287.40 173.94 h4.50 M435.80 173.94 h-4.50 M287.40 190.37 h2.30 M435.80 190.37 h-2.30 M287.40 186.23 h2.30 M435.80 186.23 h-2.30 M287.40 183.29 h2.30 M435.80 183.29 h-2.30 M287.40 181.02 h2.30 M435.80 181.02 h-2.30 M287.40 179.15 h2.30 M435.80 179.15 h-2.30 M287.40 177.58 h2.30 M435.80 177.58 h-2.30 M287.40 176.22 h2.30 M435.80 176.22 h-2.30 M287.40 175.01 h2.30 M435.80 175.01 h-2.30" stroke="#000" stroke-width="1.3" fill="none"/>
<text x="299.40" y="212.95" font-size="11.4" text-anchor="middle" fill="#1a1a1a">0</text>
<text x="324.34" y="212.95" font-size="11.4" text-anchor="middle" fill="#1a1a1a">1</text>
<text x="349.28" y="212.95" font-size="11.4" text-anchor="middle" fill="#1a1a1a">2</text>
<text x="374.22" y="212.95" font-size="11.4" text-anchor="middle" fill="#1a1a1a">3</text>
<text x="399.16" y="212.95" font-size="11.4" text-anchor="middle" fill="#1a1a1a">4</text>
<text x="424.10" y="212.95" font-size="11.4" text-anchor="middle" fill="#1a1a1a">5</text>
<text x="361.80" y="232.95" font-size="12.65" text-anchor="middle" fill="#1a1a1a">2 theta (deg)</text>
<text transform="translate(277.00 103.90) rotate(-90)" font-size="12.5" text-anchor="middle" fill="#1a1a1a">Intensity (a.u.)</text>
<text x="267.30" y="14.80" class="pl" font-size="17" font-weight="bold" fill="#000">b</text>
<rect x="358.90" y="19.15" width="70.30" height="23.30" fill="#fff" stroke="#a8a8a8" stroke-width="0.8"/>
<circle cx="370.20" cy="25.45" r="2.2" fill="#fff" stroke="#a2a2a2" stroke-width="0.8"/>
<path d="M360.40 36.35 h19.5" stroke="#1010b8" stroke-width="1.4"/>
<text x="382.90" y="28.55" font-size="9" fill="#1a1a1a">Experiment</text>
<text x="382.90" y="39.35" font-size="9" fill="#1a1a1a">Fitting</text>
<text transform="translate(294.10 186.30) scale(1.0320 1)" font-size="9.65" fill="#1a1a1a">VO<tspan font-size="6" dy="2.3">2</tspan><tspan dy="-2.3">(5.3 nm)/TiO</tspan><tspan font-size="6" dy="2.3">2</tspan><tspan dy="-2.3">(4.3 nm)/MgF</tspan><tspan font-size="6" dy="2.3">2</tspan></text>
<g fill="#fff" stroke="#a2a2a2" stroke-width="0.7"><circle cx="34.7" cy="286.9" r="2.1" stroke="#bcbcbc"/><circle cx="35.3" cy="284.4" r="2.1" stroke="#bcbcbc"/><circle cx="35.8" cy="281.8" r="2.1" stroke="#bcbcbc"/><circle cx="36.5" cy="279.3" r="2.1" stroke="#bcbcbc"/><circle cx="37.4" cy="276.9" r="2.1" stroke="#bcbcbc"/><circle cx="38.4" cy="274.5" r="2.1" stroke="#bcbcbc"/><circle cx="39.8" cy="272.3" r="2.1" stroke="#bcbcbc"/><circle cx="41.2" cy="270.1" r="2.1" stroke="#bcbcbc"/><circle cx="43.2" cy="268.4" r="2.1" stroke="#bcbcbc"/><circle cx="45.2" cy="266.8" r="2.1" stroke="#bcbcbc"/><circle cx="46.9" cy="268.3" r="2.1" stroke="#bcbcbc"/><circle cx="48.3" cy="270.5" r="2.1" stroke="#bcbcbc"/><circle cx="49.0" cy="273.0" r="2.1" stroke="#bcbcbc"/><circle cx="49.7" cy="275.5" r="2.1" stroke="#bcbcbc"/><circle cx="50.2" cy="278.0" r="2.1" stroke="#bcbcbc"/><circle cx="50.7" cy="280.6" r="2.1" stroke="#bcbcbc"/><circle cx="51.2" cy="283.1" r="2.1" stroke="#bcbcbc"/><circle cx="51.7" cy="285.7" r="2.1" stroke="#bcbcbc"/><circle cx="52.1" cy="288.2" r="2.1" stroke="#bcbcbc"/><circle cx="52.6" cy="290.8" r="2.1" stroke="#bcbcbc"/><circle cx="53.0" cy="293.4" r="2.1" stroke="#bcbcbc"/><circle cx="53.5" cy="295.9" r="2.1" stroke="#bcbcbc"/><circle cx="54.0" cy="298.5" r="2.1" stroke="#bcbcbc"/><circle cx="54.8" cy="300.9" r="2.1" stroke="#bcbcbc"/><circle cx="56.7" cy="302.1" r="2.1" stroke="#bcbcbc"/><circle cx="58.9" cy="302.5" r="2.1" stroke="#bcbcbc"/><circle cx="60.2" cy="304.7" r="2.1" stroke="#bcbcbc"/><circle cx="61.0" cy="307.1" r="2.1" stroke="#bcbcbc"/><circle cx="61.8" cy="309.6" r="2.1" stroke="#bcbcbc"/><circle cx="62.3" cy="312.2" r="2.1" stroke="#bcbcbc"/><circle cx="62.9" cy="314.7" r="2.1" stroke="#bcbcbc"/><circle cx="63.4" cy="317.3" r="2.1" stroke="#bcbcbc"/><circle cx="64.0" cy="319.8" r="2.1" stroke="#bcbcbc"/><circle cx="64.5" cy="322.4" r="2.1" stroke="#bcbcbc"/><circle cx="65.0" cy="324.9" r="2.1" stroke="#bcbcbc"/><circle cx="65.5" cy="327.4" r="2.1" stroke="#bcbcbc"/><circle cx="66.0" cy="330.0" r="2.1" stroke="#bcbcbc"/><circle cx="66.8" cy="331.0" r="2.1" stroke="#bcbcbc"/><circle cx="68.1" cy="328.7" r="2.1" stroke="#bcbcbc"/><circle cx="69.8" cy="326.8" r="2.1" stroke="#bcbcbc"/><circle cx="71.6" cy="326.3" r="2.1" stroke="#bcbcbc"/><circle cx="73.0" cy="328.4" r="2.1" stroke="#bcbcbc"/><circle cx="74.0" cy="330.8" r="2.1" stroke="#bcbcbc"/><circle cx="74.6" cy="333.3" r="2.1" stroke="#bcbcbc"/><circle cx="75.2" cy="335.9" r="2.1" stroke="#bcbcbc"/><circle cx="75.8" cy="338.4" r="2.1" stroke="#bcbcbc"/><circle cx="76.4" cy="340.9" r="2.1" stroke="#bcbcbc"/><circle cx="76.7" cy="343.5" r="2.1" stroke="#bcbcbc"/><circle cx="77.0" cy="346.1" r="2.1" stroke="#bcbcbc"/><circle cx="77.3" cy="348.7" r="2.1" stroke="#bcbcbc"/><circle cx="77.6" cy="351.3" r="2.1" stroke="#bcbcbc"/><circle cx="78.0" cy="353.8" r="2.1" stroke="#bcbcbc"/><circle cx="78.3" cy="356.4" r="2.1" stroke="#bcbcbc"/><circle cx="78.5" cy="359.0" r="2.1" stroke="#bcbcbc"/><circle cx="78.8" cy="361.6" r="2.1" stroke="#bcbcbc"/><circle cx="79.1" cy="364.2" r="2.1" stroke="#bcbcbc"/><circle cx="79.4" cy="366.8" r="2.1" stroke="#bcbcbc"/><circle cx="79.7" cy="369.3" r="2.1" stroke="#bcbcbc"/><circle cx="80.0" cy="366.7" r="2.1" stroke="#bcbcbc"/><circle cx="80.4" cy="364.1" r="2.1" stroke="#bcbcbc"/><circle cx="80.7" cy="361.5" r="2.1" stroke="#bcbcbc"/><circle cx="81.0" cy="358.9" r="2.1" stroke="#bcbcbc"/><circle cx="81.4" cy="356.4" r="2.1" stroke="#bcbcbc"/><circle cx="81.8" cy="353.8" r="2.1" stroke="#bcbcbc"/><circle cx="82.2" cy="351.2" r="2.1" stroke="#bcbcbc"/><circle cx="82.6" cy="348.7" r="2.1" stroke="#bcbcbc"/><circle cx="83.7" cy="346.3" r="2.1" stroke="#bcbcbc"/><circle cx="84.7" cy="343.9" r="2.1" stroke="#bcbcbc"/><circle cx="86.6" cy="345.7" r="2.1" stroke="#bcbcbc"/><circle cx="87.7" cy="347.9" r="2.1" stroke="#bcbcbc"/><circle cx="88.4" cy="350.4" r="2.1" stroke="#bcbcbc"/><circle cx="89.0" cy="353.0" r="2.1" stroke="#bcbcbc"/><circle cx="89.7" cy="355.5" r="2.1" stroke="#bcbcbc"/><circle cx="90.2" cy="358.0" r="2.1" stroke="#bcbcbc"/><circle cx="90.6" cy="360.6" r="2.1" stroke="#bcbcbc"/><circle cx="91.0" cy="363.2" r="2.1" stroke="#bcbcbc"/><circle cx="91.4" cy="365.7" r="2.1" stroke="#bcbcbc"/><circle cx="91.8" cy="368.3" r="2.1" stroke="#bcbcbc"/><circle cx="92.2" cy="370.9" r="2.1" stroke="#bcbcbc"/><circle cx="92.6" cy="373.4" r="2.1" stroke="#bcbcbc"/><circle cx="93.0" cy="376.0" r="2.1" stroke="#bcbcbc"/><circle cx="93.4" cy="378.6" r="2.1" stroke="#bcbcbc"/><circle cx="93.8" cy="379.9" r="2.1" stroke="#bcbcbc"/><circle cx="94.2" cy="377.3" r="2.1" stroke="#bcbcbc"/><circle cx="94.6" cy="374.7" r="2.1" stroke="#bcbcbc"/><circle cx="95.1" cy="372.2" r="2.1" stroke="#bcbcbc"/><circle cx="95.5" cy="369.6" r="2.1" stroke="#bcbcbc"/><circle cx="96.0" cy="367.1" r="2.1" stroke="#bcbcbc"/><circle cx="96.6" cy="364.5" r="2.1" stroke="#bcbcbc"/><circle cx="97.1" cy="362.0" r="2.1" stroke="#bcbcbc"/><circle cx="98.7" cy="360.0" r="2.1" stroke="#bcbcbc"/><circle cx="100.4" cy="360.6" r="2.1" stroke="#bcbcbc"/><circle cx="102.1" cy="362.6" r="2.1" stroke="#bcbcbc"/><circle cx="103.2" cy="365.0" r="2.1" stroke="#bcbcbc"/><circle cx="104.2" cy="367.4" r="2.1" stroke="#bcbcbc"/><circle cx="105.2" cy="369.7" r="2.1" stroke="#bcbcbc"/><circle cx="106.9" cy="371.7" r="2.1" stroke="#bcbcbc"/><circle cx="108.7" cy="373.6" r="2.1" stroke="#bcbcbc"/><circle cx="111.0" cy="372.4" r="2.1" stroke="#bcbcbc"/><circle cx="113.1" cy="370.8" r="2.1" stroke="#bcbcbc"/><circle cx="115.1" cy="371.6" r="2.1" stroke="#bcbcbc"/><circle cx="34.4" cy="274.6" r="2.1"/><circle cx="98.0" cy="353.7" r="2.1"/><circle cx="100.8" cy="355.8" r="2.1"/><circle cx="95.8" cy="359.2" r="2.1"/><circle cx="103.4" cy="359.2" r="2.1"/><circle cx="125.9" cy="368.3" r="2.1"/><circle cx="142.3" cy="372.2" r="2.1"/><circle cx="99.6" cy="379.7" r="2.1"/><circle cx="104.7" cy="379.7" r="2.1"/><circle cx="109.8" cy="379.7" r="2.1"/><circle cx="112.3" cy="379.7" r="2.1"/><circle cx="114.9" cy="379.7" r="2.1"/><circle cx="117.4" cy="379.7" r="2.1"/><circle cx="121.7" cy="379.7" r="2.1"/><circle cx="126.7" cy="379.7" r="2.1"/><circle cx="131.8" cy="379.7" r="2.1"/><circle cx="136.1" cy="379.7" r="2.1"/><circle cx="141.2" cy="379.7" r="2.1"/><circle cx="147.9" cy="379.7" r="2.1"/><circle cx="151.3" cy="379.7" r="2.1"/><circle cx="155.6" cy="379.7" r="2.1"/><circle cx="159.8" cy="379.7" r="2.1"/><circle cx="164.0" cy="379.7" r="2.1"/><circle cx="167.4" cy="379.7" r="2.1"/></g>
<path d="M34.70 286.90 C34.93 285.83 35.50 282.55 36.10 280.50 C36.70 278.45 37.45 276.35 38.30 274.60 C39.15 272.85 40.02 271.33 41.20 270.00 C42.38 268.67 44.27 266.68 45.40 266.60 C46.53 266.52 47.28 268.03 48.00 269.50 C48.72 270.97 49.13 273.00 49.70 275.40 C50.27 277.80 50.83 280.78 51.40 283.90 C51.97 287.02 52.60 291.37 53.10 294.10 C53.60 296.83 53.93 298.93 54.40 300.30 C54.87 301.67 55.28 302.07 55.90 302.30 C56.52 302.53 57.45 301.52 58.10 301.70 C58.75 301.88 59.23 302.27 59.80 303.40 C60.37 304.53 60.93 306.38 61.50 308.50 C62.07 310.62 62.67 313.60 63.20 316.10 C63.73 318.60 64.17 320.90 64.70 323.50 C65.23 326.10 65.75 330.98 66.40 331.70 C67.05 332.42 67.80 328.82 68.60 327.80 C69.40 326.78 70.35 325.32 71.20 325.60 C72.05 325.88 72.85 327.02 73.70 329.50 C74.55 331.98 75.58 336.40 76.30 340.50 C77.02 344.60 77.43 349.30 78.00 354.10 C78.57 358.90 79.20 368.45 79.70 369.30 C80.20 370.15 80.53 362.58 81.00 359.20 C81.47 355.82 81.88 351.55 82.50 349.00 C83.12 346.45 83.90 344.33 84.70 343.90 C85.50 343.47 86.45 344.42 87.30 346.40 C88.15 348.38 89.02 351.98 89.80 355.80 C90.58 359.62 91.35 365.18 92.00 369.30 C92.65 373.42 93.13 380.38 93.70 380.50 C94.27 380.62 94.82 373.13 95.40 370.00 C95.98 366.87 96.55 363.48 97.20 361.70 C97.85 359.92 98.47 359.13 99.30 359.30 C100.13 359.47 101.20 360.93 102.20 362.70 C103.20 364.47 104.22 368.08 105.30 369.90 C106.38 371.72 107.75 373.18 108.70 373.60 C109.65 374.02 110.18 372.93 111.00 372.40 C111.82 371.87 112.62 370.32 113.60 370.40 C114.58 370.48 115.78 372.00 116.90 372.90 C118.02 373.80 119.02 375.17 120.30 375.80 C121.58 376.43 123.03 376.38 124.60 376.70 C126.17 377.02 127.50 377.10 129.70 377.70 C131.90 378.30 135.33 379.52 137.80 380.30 C140.27 381.08 142.25 381.77 144.50 382.40 C146.75 383.03 148.75 383.48 151.30 384.10 C153.85 384.72 156.73 385.28 159.80 386.10 C162.87 386.92 168.05 388.52 169.70 389.00" fill="none" stroke="#1010b8" stroke-width="1.9" stroke-linejoin="round" stroke-linecap="round"/>
<rect x="21.40" y="244.30" width="148.40" height="188.20" fill="none" stroke="#000" stroke-width="2"/>
<path d="M33.10 432.50 v-4.20 M33.10 244.30 v4.20 M45.57 432.50 v-2.60 M45.57 244.30 v2.60 M58.04 432.50 v-4.20 M58.04 244.30 v4.20 M70.51 432.50 v-2.60 M70.51 244.30 v2.60 M82.98 432.50 v-4.20 M82.98 244.30 v4.20 M95.45 432.50 v-2.60 M95.45 244.30 v2.60 M107.92 432.50 v-4.20 M107.92 244.30 v4.20 M120.39 432.50 v-2.60 M120.39 244.30 v2.60 M132.86 432.50 v-4.20 M132.86 244.30 v4.20 M145.33 432.50 v-2.60 M145.33 244.30 v2.60 M157.80 432.50 v-4.20 M157.80 244.30 v4.20 M21.40 260.74 h2.30 M169.80 260.74 h-2.30 M21.40 256.60 h2.30 M169.80 256.60 h-2.30 M21.40 253.66 h2.30 M169.80 253.66 h-2.30 M21.40 251.38 h2.30 M169.80 251.38 h-2.30 M21.40 249.52 h2.30 M169.80 249.52 h-2.30 M21.40 247.94 h2.30 M169.80 247.94 h-2.30 M21.40 246.58 h2.30 M169.80 246.58 h-2.30 M21.40 245.38 h2.30 M169.80 245.38 h-2.30 M21.40 267.82 h4.50 M169.80 267.82 h-4.50 M21.40 284.27 h2.30 M169.80 284.27 h-2.30 M21.40 280.13 h2.30 M169.80 280.13 h-2.30 M21.40 277.19 h2.30 M169.80 277.19 h-2.30 M21.40 274.91 h2.30 M169.80 274.91 h-2.30 M21.40 273.04 h2.30 M169.80 273.04 h-2.30 M21.40 271.47 h2.30 M169.80 271.47 h-2.30 M21.40 270.10 h2.30 M169.80 270.10 h-2.30 M21.40 268.90 h2.30 M169.80 268.90 h-2.30 M21.40 291.35 h4.50 M169.80 291.35 h-4.50 M21.40 307.79 h2.30 M169.80 307.79 h-2.30 M21.40 303.65 h2.30 M169.80 303.65 h-2.30 M21.40 300.71 h2.30 M169.80 300.71 h-2.30 M21.40 298.43 h2.30 M169.80 298.43 h-2.30 M21.40 296.57 h2.30 M169.80 296.57 h-2.30 M21.40 294.99 h2.30 M169.80 294.99 h-2.30 M21.40 293.63 h2.30 M169.80 293.63 h-2.30 M21.40 292.43 h2.30 M169.80 292.43 h-2.30 M21.40 314.88 h4.50 M169.80 314.88 h-4.50 M21.40 331.32 h2.30 M169.80 331.32 h-2.30 M21.40 327.18 h2.30 M169.80 327.18 h-2.30 M21.40 324.24 h2.30 M169.80 324.24 h-2.30 M21.40 321.96 h2.30 M169.80 321.96 h-2.30 M21.40 320.09 h2.30 M169.80 320.09 h-2.30 M21.40 318.52 h2.30 M169.80 318.52 h-2.30 M21.40 317.15 h2.30 M169.80 317.15 h-2.30 M21.40 315.95 h2.30 M169.80 315.95 h-2.30 M21.40 338.40 h4.50 M169.80 338.40 h-4.50 M21.40 354.84 h2.30 M169.80 354.84 h-2.30 M21.40 350.70 h2.30 M169.80 350.70 h-2.30 M21.40 347.76 h2.30 M169.80 347.76 h-2.30 M21.40 345.48 h2.30 M169.80 345.48 h-2.30 M21.40 343.62 h2.30 M169.80 343.62 h-2.30 M21.40 342.04 h2.30 M169.80 342.04 h-2.30 M21.40 340.68 h2.30 M169.80 340.68 h-2.30 M21.40 339.48 h2.30 M169.80 339.48 h-2.30 M21.40 361.93 h4.50 M169.80 361.93 h-4.50 M21.40 378.37 h2.30 M169.80 378.37 h-2.30 M21.40 374.23 h2.30 M169.80 374.23 h-2.30 M21.40 371.29 h2.30 M169.80 371.29 h-2.30 M21.40 369.01 h2.30 M169.80 369.01 h-2.30 M21.40 367.14 h2.30 M169.80 367.14 h-2.30 M21.40 365.57 h2.30 M169.80 365.57 h-2.30 M21.40 364.20 h2.30 M169.80 364.20 h-2.30 M21.40 363.00 h2.30 M169.80 363.00 h-2.30 M21.40 385.45 h4.50 M169.80 385.45 h-4.50 M21.40 401.89 h2.30 M169.80 401.89 h-2.30 M21.40 397.75 h2.30 M169.80 397.75 h-2.30 M21.40 394.81 h2.30 M169.80 394.81 h-2.30 M21.40 392.53 h2.30 M169.80 392.53 h-2.30 M21.40 390.67 h2.30 M169.80 390.67 h-2.30 M21.40 389.09 h2.30 M169.80 389.09 h-2.30 M21.40 387.73 h2.30 M169.80 387.73 h-2.30 M21.40 386.53 h2.30 M169.80 386.53 h-2.30 M21.40 408.98 h4.50 M169.80 408.98 h-4.50 M21.40 425.42 h2.30 M169.80 425.42 h-2.30 M21.40 421.28 h2.30 M169.80 421.28 h-2.30 M21.40 418.34 h2.30 M169.80 418.34 h-2.30 M21.40 416.06 h2.30 M169.80 416.06 h-2.30 M21.40 414.19 h2.30 M169.80 414.19 h-2.30 M21.40 412.62 h2.30 M169.80 412.62 h-2.30 M21.40 411.25 h2.30 M169.80 411.25 h-2.30 M21.40 410.05 h2.30 M169.80 410.05 h-2.30" stroke="#000" stroke-width="1.3" fill="none"/>
<text x="33.10" y="448.00" font-size="11.4" text-anchor="middle" fill="#1a1a1a">0</text>
<text x="58.04" y="448.00" font-size="11.4" text-anchor="middle" fill="#1a1a1a">1</text>
<text x="82.98" y="448.00" font-size="11.4" text-anchor="middle" fill="#1a1a1a">2</text>
<text x="107.92" y="448.00" font-size="11.4" text-anchor="middle" fill="#1a1a1a">3</text>
<text x="132.86" y="448.00" font-size="11.4" text-anchor="middle" fill="#1a1a1a">4</text>
<text x="157.80" y="448.00" font-size="11.4" text-anchor="middle" fill="#1a1a1a">5</text>
<text x="95.80" y="468.00" font-size="12.65" text-anchor="middle" fill="#1a1a1a">2 theta (deg)</text>
<text transform="translate(10.40 339.20) rotate(-90)" font-size="12.5" text-anchor="middle" fill="#1a1a1a">Intensity (a.u.)</text>
<text x="5.20" y="249.30" class="pl" font-size="17" font-weight="bold" fill="#000">c</text>
<rect x="92.90" y="254.10" width="70.30" height="23.30" fill="#fff" stroke="#a8a8a8" stroke-width="0.8"/>
<circle cx="104.20" cy="260.40" r="2.2" fill="#fff" stroke="#a2a2a2" stroke-width="0.8"/>
<path d="M94.40 271.30 h19.5" stroke="#1010b8" stroke-width="1.4"/>
<text x="116.90" y="263.50" font-size="9" fill="#1a1a1a">Experiment</text>
<text x="116.90" y="274.30" font-size="9" fill="#1a1a1a">Fitting</text>
<text transform="translate(27.40 421.60) scale(1.0340 1)" font-size="9.65" fill="#1a1a1a">VO<tspan font-size="6" dy="2.3">2</tspan><tspan dy="-2.3">(5.3 nm)/TiO</tspan><tspan font-size="6" dy="2.3">2</tspan><tspan dy="-2.3">(9.8 nm)/MgF</tspan><tspan font-size="6" dy="2.3">2</tspan></text>
<g fill="#fff" stroke="#a2a2a2" stroke-width="0.7"><circle cx="208.4" cy="288.6" r="2.1" stroke="#bcbcbc"/><circle cx="209.0" cy="286.1" r="2.1" stroke="#bcbcbc"/><circle cx="209.5" cy="283.5" r="2.1" stroke="#bcbcbc"/><circle cx="210.2" cy="281.0" r="2.1" stroke="#bcbcbc"/><circle cx="211.0" cy="278.6" r="2.1" stroke="#bcbcbc"/><circle cx="211.9" cy="276.1" r="2.1" stroke="#bcbcbc"/><circle cx="213.4" cy="274.0" r="2.1" stroke="#bcbcbc"/><circle cx="214.8" cy="271.8" r="2.1" stroke="#bcbcbc"/><circle cx="216.7" cy="270.1" r="2.1" stroke="#bcbcbc"/><circle cx="218.8" cy="268.6" r="2.1" stroke="#bcbcbc"/><circle cx="220.5" cy="268.3" r="2.1" stroke="#bcbcbc"/><circle cx="221.2" cy="270.8" r="2.1" stroke="#bcbcbc"/><circle cx="221.9" cy="273.3" r="2.1" stroke="#bcbcbc"/><circle cx="222.3" cy="275.8" r="2.1" stroke="#bcbcbc"/><circle cx="222.7" cy="278.4" r="2.1" stroke="#bcbcbc"/><circle cx="223.0" cy="281.0" r="2.1" stroke="#bcbcbc"/><circle cx="223.4" cy="283.6" r="2.1" stroke="#bcbcbc"/><circle cx="223.8" cy="286.1" r="2.1" stroke="#bcbcbc"/><circle cx="224.2" cy="288.7" r="2.1" stroke="#bcbcbc"/><circle cx="224.6" cy="291.3" r="2.1" stroke="#bcbcbc"/><circle cx="225.7" cy="293.6" r="2.1" stroke="#bcbcbc"/><circle cx="227.3" cy="295.5" r="2.1" stroke="#bcbcbc"/><circle cx="228.7" cy="297.4" r="2.1" stroke="#bcbcbc"/><circle cx="229.7" cy="299.9" r="2.1" stroke="#bcbcbc"/><circle cx="230.3" cy="302.4" r="2.1" stroke="#bcbcbc"/><circle cx="230.9" cy="304.9" r="2.1" stroke="#bcbcbc"/><circle cx="231.5" cy="307.5" r="2.1" stroke="#bcbcbc"/><circle cx="232.3" cy="309.9" r="2.1" stroke="#bcbcbc"/><circle cx="233.1" cy="312.4" r="2.1" stroke="#bcbcbc"/><circle cx="235.1" cy="313.7" r="2.1" stroke="#bcbcbc"/><circle cx="237.3" cy="315.1" r="2.1" stroke="#bcbcbc"/><circle cx="238.3" cy="317.4" r="2.1" stroke="#bcbcbc"/><circle cx="239.0" cy="319.9" r="2.1" stroke="#bcbcbc"/><circle cx="239.7" cy="322.4" r="2.1" stroke="#bcbcbc"/><circle cx="240.3" cy="324.9" r="2.1" stroke="#bcbcbc"/><circle cx="240.9" cy="327.5" r="2.1" stroke="#bcbcbc"/><circle cx="241.5" cy="330.0" r="2.1" stroke="#bcbcbc"/><circle cx="243.0" cy="332.1" r="2.1" stroke="#bcbcbc"/><circle cx="245.1" cy="330.8" r="2.1" stroke="#bcbcbc"/><circle cx="246.9" cy="332.6" r="2.1" stroke="#bcbcbc"/><circle cx="247.8" cy="335.0" r="2.1" stroke="#bcbcbc"/><circle cx="248.4" cy="337.5" r="2.1" stroke="#bcbcbc"/><circle cx="249.0" cy="340.1" r="2.1" stroke="#bcbcbc"/><circle cx="249.4" cy="342.6" r="2.1" stroke="#bcbcbc"/><circle cx="249.9" cy="345.2" r="2.1" stroke="#bcbcbc"/><circle cx="250.4" cy="347.7" r="2.1" stroke="#bcbcbc"/><circle cx="250.9" cy="350.3" r="2.1" stroke="#bcbcbc"/><circle cx="251.8" cy="352.7" r="2.1" stroke="#bcbcbc"/><circle cx="252.5" cy="351.6" r="2.1" stroke="#bcbcbc"/><circle cx="253.2" cy="349.1" r="2.1" stroke="#bcbcbc"/><circle cx="254.3" cy="346.8" r="2.1" stroke="#bcbcbc"/><circle cx="255.9" cy="345.9" r="2.1" stroke="#bcbcbc"/><circle cx="257.1" cy="348.1" r="2.1" stroke="#bcbcbc"/><circle cx="257.9" cy="350.6" r="2.1" stroke="#bcbcbc"/><circle cx="258.4" cy="353.2" r="2.1" stroke="#bcbcbc"/><circle cx="258.9" cy="355.7" r="2.1" stroke="#bcbcbc"/><circle cx="259.3" cy="358.3" r="2.1" stroke="#bcbcbc"/><circle cx="259.7" cy="360.8" r="2.1" stroke="#bcbcbc"/><circle cx="260.1" cy="363.4" r="2.1" stroke="#bcbcbc"/><circle cx="260.5" cy="366.0" r="2.1" stroke="#bcbcbc"/><circle cx="261.0" cy="368.5" r="2.1" stroke="#bcbcbc"/><circle cx="261.6" cy="370.5" r="2.1" stroke="#bcbcbc"/><circle cx="262.1" cy="368.0" r="2.1" stroke="#bcbcbc"/><circle cx="262.6" cy="365.4" r="2.1" stroke="#bcbcbc"/><circle cx="263.2" cy="362.9" r="2.1" stroke="#bcbcbc"/><circle cx="264.2" cy="360.5" r="2.1" stroke="#bcbcbc"/><circle cx="265.4" cy="358.2" r="2.1" stroke="#bcbcbc"/><circle cx="266.5" cy="358.7" r="2.1" stroke="#bcbcbc"/><circle cx="267.6" cy="361.1" r="2.1" stroke="#bcbcbc"/><circle cx="268.1" cy="363.6" r="2.1" stroke="#bcbcbc"/><circle cx="268.6" cy="366.2" r="2.1" stroke="#bcbcbc"/><circle cx="269.1" cy="368.7" r="2.1" stroke="#bcbcbc"/><circle cx="269.5" cy="371.3" r="2.1" stroke="#bcbcbc"/><circle cx="269.7" cy="373.9" r="2.1" stroke="#bcbcbc"/><circle cx="270.0" cy="376.5" r="2.1" stroke="#bcbcbc"/><circle cx="270.3" cy="379.1" r="2.1" stroke="#bcbcbc"/><circle cx="270.6" cy="381.7" r="2.1" stroke="#bcbcbc"/><circle cx="270.7" cy="384.3" r="2.1" stroke="#bcbcbc"/><circle cx="270.9" cy="386.8" r="2.1" stroke="#bcbcbc"/><circle cx="271.1" cy="389.4" r="2.1" stroke="#bcbcbc"/><circle cx="271.3" cy="392.0" r="2.1" stroke="#bcbcbc"/><circle cx="271.5" cy="394.6" r="2.1" stroke="#bcbcbc"/><circle cx="271.7" cy="397.2" r="2.1" stroke="#bcbcbc"/><circle cx="272.0" cy="396.2" r="2.1" stroke="#bcbcbc"/><circle cx="272.2" cy="393.6" r="2.1" stroke="#bcbcbc"/><circle cx="272.4" cy="391.0" r="2.1" stroke="#bcbcbc"/><circle cx="272.6" cy="388.4" r="2.1" stroke="#bcbcbc"/><circle cx="272.9" cy="385.8" r="2.1" stroke="#bcbcbc"/><circle cx="273.1" cy="383.2" r="2.1" stroke="#bcbcbc"/><circle cx="273.5" cy="380.7" r="2.1" stroke="#bcbcbc"/><circle cx="273.9" cy="378.1" r="2.1" stroke="#bcbcbc"/><circle cx="274.4" cy="375.6" r="2.1" stroke="#bcbcbc"/><circle cx="274.9" cy="373.0" r="2.1" stroke="#bcbcbc"/><circle cx="275.4" cy="370.5" r="2.1" stroke="#bcbcbc"/><circle cx="276.4" cy="370.7" r="2.1" stroke="#bcbcbc"/><circle cx="277.7" cy="372.9" r="2.1" stroke="#bcbcbc"/><circle cx="278.5" cy="375.4" r="2.1" stroke="#bcbcbc"/><circle cx="278.9" cy="377.9" r="2.1" stroke="#bcbcbc"/><circle cx="279.3" cy="380.5" r="2.1" stroke="#bcbcbc"/><circle cx="279.7" cy="383.1" r="2.1" stroke="#bcbcbc"/><circle cx="280.1" cy="385.6" r="2.1" stroke="#bcbcbc"/><circle cx="280.6" cy="388.2" r="2.1" stroke="#bcbcbc"/><circle cx="281.0" cy="390.8" r="2.1" stroke="#bcbcbc"/><circle cx="281.4" cy="393.3" r="2.1" stroke="#bcbcbc"/><circle cx="281.8" cy="395.9" r="2.1" stroke="#bcbcbc"/><circle cx="282.2" cy="398.5" r="2.1" stroke="#bcbcbc"/><circle cx="282.7" cy="400.2" r="2.1" stroke="#bcbcbc"/><circle cx="283.1" cy="397.6" r="2.1" stroke="#bcbcbc"/><circle cx="283.5" cy="395.0" r="2.1" stroke="#bcbcbc"/><circle cx="283.9" cy="392.5" r="2.1" stroke="#bcbcbc"/><circle cx="284.4" cy="389.9" r="2.1" stroke="#bcbcbc"/><circle cx="285.1" cy="387.4" r="2.1" stroke="#bcbcbc"/><circle cx="285.8" cy="384.9" r="2.1" stroke="#bcbcbc"/><circle cx="286.6" cy="382.4" r="2.1" stroke="#bcbcbc"/><circle cx="287.7" cy="382.3" r="2.1" stroke="#bcbcbc"/><circle cx="289.1" cy="384.5" r="2.1" stroke="#bcbcbc"/><circle cx="290.3" cy="386.8" r="2.1" stroke="#bcbcbc"/><circle cx="291.3" cy="389.2" r="2.1" stroke="#bcbcbc"/><circle cx="292.5" cy="390.6" r="2.1" stroke="#bcbcbc"/><circle cx="294.4" cy="388.7" r="2.1" stroke="#bcbcbc"/><circle cx="296.2" cy="388.3" r="2.1" stroke="#bcbcbc"/><circle cx="297.9" cy="390.3" r="2.1" stroke="#bcbcbc"/><circle cx="299.6" cy="392.2" r="2.1" stroke="#bcbcbc"/><circle cx="301.5" cy="394.0" r="2.1" stroke="#bcbcbc"/><circle cx="303.6" cy="394.5" r="2.1" stroke="#bcbcbc"/><circle cx="305.9" cy="393.3" r="2.1" stroke="#bcbcbc"/><circle cx="308.1" cy="393.7" r="2.1" stroke="#bcbcbc"/><circle cx="275.6" cy="366.0" r="2.1"/><circle cx="286.9" cy="378.1" r="2.1"/><circle cx="289.5" cy="381.5" r="2.1"/><circle cx="295.5" cy="386.4" r="2.1"/><circle cx="310.2" cy="390.5" r="2.1"/><circle cx="305.9" cy="393.6" r="2.1"/><circle cx="280.8" cy="398.8" r="2.1"/><circle cx="268.7" cy="373.7" r="2.1"/><circle cx="316.3" cy="398.8" r="2.1"/><circle cx="318.9" cy="398.8" r="2.1"/><circle cx="325.0" cy="398.0" r="2.1"/><circle cx="328.4" cy="398.0" r="2.1"/><circle cx="339.7" cy="398.0" r="2.1"/><circle cx="292.9" cy="398.8" r="2.1"/><circle cx="295.5" cy="398.8" r="2.1"/><circle cx="298.1" cy="398.8" r="2.1"/><circle cx="300.7" cy="398.8" r="2.1"/><circle cx="303.3" cy="398.8" r="2.1"/><circle cx="305.9" cy="398.8" r="2.1"/><circle cx="307.7" cy="398.8" r="2.1"/></g>
<path d="M208.40 288.60 C208.63 287.53 209.23 284.25 209.80 282.20 C210.37 280.15 210.90 278.13 211.80 276.30 C212.70 274.47 213.78 272.67 215.20 271.20 C216.62 269.73 219.17 267.08 220.30 267.50 C221.43 267.92 221.52 271.25 222.00 273.70 C222.48 276.15 222.78 279.32 223.20 282.20 C223.62 285.08 224.00 288.88 224.50 291.00 C225.00 293.12 225.58 294.07 226.20 294.90 C226.82 295.73 227.58 295.07 228.20 296.00 C228.82 296.93 229.33 298.50 229.90 300.50 C230.47 302.50 231.03 305.92 231.60 308.00 C232.17 310.08 232.62 312.02 233.30 313.00 C233.98 313.98 234.95 313.48 235.70 313.90 C236.45 314.32 237.17 314.22 237.80 315.50 C238.43 316.78 238.90 319.22 239.50 321.60 C240.10 323.98 240.82 328.03 241.40 329.80 C241.98 331.57 242.37 332.03 243.00 332.20 C243.63 332.37 244.47 330.65 245.20 330.80 C245.93 330.95 246.75 331.45 247.40 333.10 C248.05 334.75 248.53 337.88 249.10 340.70 C249.67 343.52 250.32 347.88 250.80 350.00 C251.28 352.12 251.52 353.82 252.00 353.40 C252.48 352.98 253.10 348.85 253.70 347.50 C254.30 346.15 254.97 345.08 255.60 345.30 C256.23 345.52 256.93 347.02 257.50 348.80 C258.07 350.58 258.52 353.25 259.00 356.00 C259.48 358.75 259.98 362.83 260.40 365.30 C260.82 367.77 261.02 371.30 261.50 370.80 C261.98 370.30 262.58 364.55 263.30 362.30 C264.02 360.05 265.08 357.52 265.80 357.30 C266.52 357.08 267.03 359.05 267.60 361.00 C268.17 362.95 268.72 365.67 269.20 369.00 C269.68 372.33 270.07 376.17 270.50 381.00 C270.93 385.83 271.35 397.83 271.80 398.00 C272.25 398.17 272.57 386.77 273.20 382.00 C273.83 377.23 274.77 370.78 275.60 369.40 C276.43 368.02 277.42 370.82 278.20 373.70 C278.98 376.58 279.57 382.22 280.30 386.70 C281.03 391.18 281.93 400.02 282.60 400.60 C283.27 401.18 283.58 393.43 284.30 390.20 C285.02 386.97 286.03 382.07 286.90 381.20 C287.77 380.33 288.63 383.37 289.50 385.00 C290.37 386.63 291.10 390.57 292.10 391.00 C293.10 391.43 294.35 387.50 295.50 387.60 C296.65 387.70 297.83 390.37 299.00 391.60 C300.17 392.83 301.20 394.80 302.50 395.00 C303.80 395.20 305.37 392.68 306.80 392.80 C308.23 392.92 309.80 394.98 311.10 395.70 C312.40 396.42 313.30 396.92 314.60 397.10 C315.90 397.28 317.47 396.57 318.90 396.80 C320.33 397.03 321.32 397.87 323.20 398.50 C325.08 399.13 327.88 400.02 330.20 400.60 C332.52 401.18 334.88 401.55 337.10 402.00 C339.32 402.45 342.43 403.08 343.50 403.30" fill="none" stroke="#1010b8" stroke-width="1.9" stroke-linejoin="round" stroke-linecap="round"/>
<rect x="195.30" y="244.30" width="148.50" height="188.20" fill="none" stroke="#000" stroke-width="2"/>
<path d="M207.00 432.50 v-4.20 M207.00 244.30 v4.20 M219.47 432.50 v-2.60 M219.47 244.30 v2.60 M231.94 432.50 v-4.20 M231.94 244.30 v4.20 M244.41 432.50 v-2.60 M244.41 244.30 v2.60 M256.88 432.50 v-4.20 M256.88 244.30 v4.20 M269.35 432.50 v-2.60 M269.35 244.30 v2.60 M281.82 432.50 v-4.20 M281.82 244.30 v4.20 M294.29 432.50 v-2.60 M294.29 244.30 v2.60 M306.76 432.50 v-4.20 M306.76 244.30 v4.20 M319.23 432.50 v-2.60 M319.23 244.30 v2.60 M331.70 432.50 v-4.20 M331.70 244.30 v4.20 M195.30 260.74 h2.30 M343.80 260.74 h-2.30 M195.30 256.60 h2.30 M343.80 256.60 h-2.30 M195.30 253.66 h2.30 M343.80 253.66 h-2.30 M195.30 251.38 h2.30 M343.80 251.38 h-2.30 M195.30 249.52 h2.30 M343.80 249.52 h-2.30 M195.30 247.94 h2.30 M343.80 247.94 h-2.30 M195.30 246.58 h2.30 M343.80 246.58 h-2.30 M195.30 245.38 h2.30 M343.80 245.38 h-2.30 M195.30 267.82 h4.50 M343.80 267.82 h-4.50 M195.30 284.27 h2.30 M343.80 284.27 h-2.30 M195.30 280.13 h2.30 M343.80 280.13 h-2.30 M195.30 277.19 h2.30 M343.80 277.19 h-2.30 M195.30 274.91 h2.30 M343.80 274.91 h-2.30 M195.30 273.04 h2.30 M343.80 273.04 h-2.30 M195.30 271.47 h2.30 M343.80 271.47 h-2.30 M195.30 270.10 h2.30 M343.80 270.10 h-2.30 M195.30 268.90 h2.30 M343.80 268.90 h-2.30 M195.30 291.35 h4.50 M343.80 291.35 h-4.50 M195.30 307.79 h2.30 M343.80 307.79 h-2.30 M195.30 303.65 h2.30 M343.80 303.65 h-2.30 M195.30 300.71 h2.30 M343.80 300.71 h-2.30 M195.30 298.43 h2.30 M343.80 298.43 h-2.30 M195.30 296.57 h2.30 M343.80 296.57 h-2.30 M195.30 294.99 h2.30 M343.80 294.99 h-2.30 M195.30 293.63 h2.30 M343.80 293.63 h-2.30 M195.30 292.43 h2.30 M343.80 292.43 h-2.30 M195.30 314.88 h4.50 M343.80 314.88 h-4.50 M195.30 331.32 h2.30 M343.80 331.32 h-2.30 M195.30 327.18 h2.30 M343.80 327.18 h-2.30 M195.30 324.24 h2.30 M343.80 324.24 h-2.30 M195.30 321.96 h2.30 M343.80 321.96 h-2.30 M195.30 320.09 h2.30 M343.80 320.09 h-2.30 M195.30 318.52 h2.30 M343.80 318.52 h-2.30 M195.30 317.15 h2.30 M343.80 317.15 h-2.30 M195.30 315.95 h2.30 M343.80 315.95 h-2.30 M195.30 338.40 h4.50 M343.80 338.40 h-4.50 M195.30 354.84 h2.30 M343.80 354.84 h-2.30 M195.30 350.70 h2.30 M343.80 350.70 h-2.30 M195.30 347.76 h2.30 M343.80 347.76 h-2.30 M195.30 345.48 h2.30 M343.80 345.48 h-2.30 M195.30 343.62 h2.30 M343.80 343.62 h-2.30 M195.30 342.04 h2.30 M343.80 342.04 h-2.30 M195.30 340.68 h2.30 M343.80 340.68 h-2.30 M195.30 339.48 h2.30 M343.80 339.48 h-2.30 M195.30 361.93 h4.50 M343.80 361.93 h-4.50 M195.30 378.37 h2.30 M343.80 378.37 h-2.30 M195.30 374.23 h2.30 M343.80 374.23 h-2.30 M195.30 371.29 h2.30 M343.80 371.29 h-2.30 M195.30 369.01 h2.30 M343.80 369.01 h-2.30 M195.30 367.14 h2.30 M343.80 367.14 h-2.30 M195.30 365.57 h2.30 M343.80 365.57 h-2.30 M195.30 364.20 h2.30 M343.80 364.20 h-2.30 M195.30 363.00 h2.30 M343.80 363.00 h-2.30 M195.30 385.45 h4.50 M343.80 385.45 h-4.50 M195.30 401.89 h2.30 M343.80 401.89 h-2.30 M195.30 397.75 h2.30 M343.80 397.75 h-2.30 M195.30 394.81 h2.30 M343.80 394.81 h-2.30 M195.30 392.53 h2.30 M343.80 392.53 h-2.30 M195.30 390.67 h2.30 M343.80 390.67 h-2.30 M195.30 389.09 h2.30 M343.80 389.09 h-2.30 M195.30 387.73 h2.30 M343.80 387.73 h-2.30 M195.30 386.53 h2.30 M343.80 386.53 h-2.30 M195.30 408.98 h4.50 M343.80 408.98 h-4.50 M195.30 425.42 h2.30 M343.80 425.42 h-2.30 M195.30 421.28 h2.30 M343.80 421.28 h-2.30 M195.30 418.34 h2.30 M343.80 418.34 h-2.30 M195.30 416.06 h2.30 M343.80 416.06 h-2.30 M195.30 414.19 h2.30 M343.80 414.19 h-2.30 M195.30 412.62 h2.30 M343.80 412.62 h-2.30 M195.30 411.25 h2.30 M343.80 411.25 h-2.30 M195.30 410.05 h2.30 M343.80 410.05 h-2.30" stroke="#000" stroke-width="1.3" fill="none"/>
<text x="207.00" y="448.00" font-size="11.4" text-anchor="middle" fill="#1a1a1a">0</text>
<text x="231.94" y="448.00" font-size="11.4" text-anchor="middle" fill="#1a1a1a">1</text>
<text x="256.88" y="448.00" font-size="11.4" text-anchor="middle" fill="#1a1a1a">2</text>
<text x="281.82" y="448.00" font-size="11.4" text-anchor="middle" fill="#1a1a1a">3</text>
<text x="306.76" y="448.00" font-size="11.4" text-anchor="middle" fill="#1a1a1a">4</text>
<text x="331.70" y="448.00" font-size="11.4" text-anchor="middle" fill="#1a1a1a">5</text>
<text x="269.75" y="468.00" font-size="12.65" text-anchor="middle" fill="#1a1a1a">2 theta (deg)</text>
<text transform="translate(184.30 338.90) rotate(-90)" font-size="12.5" text-anchor="middle" fill="#1a1a1a">Intensity (a.u.)</text>
<text x="179.10" y="249.40" class="pl" font-size="17" font-weight="bold" fill="#000">d</text>
<rect x="266.90" y="254.10" width="70.30" height="23.30" fill="#fff" stroke="#a8a8a8" stroke-width="0.8"/>
<circle cx="278.20" cy="260.40" r="2.2" fill="#fff" stroke="#a2a2a2" stroke-width="0.8"/>
<path d="M268.40 271.30 h19.5" stroke="#1010b8" stroke-width="1.4"/>
<text x="290.90" y="263.50" font-size="9" fill="#1a1a1a">Experiment</text>
<text x="290.90" y="274.30" font-size="9" fill="#1a1a1a">Fitting</text>
<text transform="translate(197.00 421.60) scale(1.0310 1)" font-size="9.65" fill="#1a1a1a">VO<tspan font-size="6" dy="2.3">2</tspan><tspan dy="-2.3">(5.3 nm)/TiO</tspan><tspan font-size="6" dy="2.3">2</tspan><tspan dy="-2.3">(15.7 nm)/MgF</tspan><tspan font-size="6" dy="2.3">2</tspan></text>
<g fill="#fff" stroke="#a2a2a2" stroke-width="0.7"><circle cx="382.9" cy="283.1" r="2.1" stroke="#bcbcbc"/><circle cx="383.5" cy="280.6" r="2.1" stroke="#bcbcbc"/><circle cx="384.1" cy="278.0" r="2.1" stroke="#bcbcbc"/><circle cx="385.1" cy="275.6" r="2.1" stroke="#bcbcbc"/><circle cx="386.1" cy="273.3" r="2.1" stroke="#bcbcbc"/><circle cx="387.7" cy="271.2" r="2.1" stroke="#bcbcbc"/><circle cx="389.3" cy="269.1" r="2.1" stroke="#bcbcbc"/><circle cx="391.5" cy="267.8" r="2.1" stroke="#bcbcbc"/><circle cx="393.8" cy="266.8" r="2.1" stroke="#bcbcbc"/><circle cx="394.8" cy="268.7" r="2.1" stroke="#bcbcbc"/><circle cx="395.4" cy="271.2" r="2.1" stroke="#bcbcbc"/><circle cx="395.9" cy="273.7" r="2.1" stroke="#bcbcbc"/><circle cx="396.4" cy="276.3" r="2.1" stroke="#bcbcbc"/><circle cx="396.9" cy="278.8" r="2.1" stroke="#bcbcbc"/><circle cx="397.3" cy="281.4" r="2.1" stroke="#bcbcbc"/><circle cx="397.5" cy="284.0" r="2.1" stroke="#bcbcbc"/><circle cx="397.6" cy="286.6" r="2.1" stroke="#bcbcbc"/><circle cx="397.8" cy="289.2" r="2.1" stroke="#bcbcbc"/><circle cx="398.3" cy="291.7" r="2.1" stroke="#bcbcbc"/><circle cx="398.9" cy="294.3" r="2.1" stroke="#bcbcbc"/><circle cx="399.6" cy="296.8" r="2.1" stroke="#bcbcbc"/><circle cx="400.2" cy="299.3" r="2.1" stroke="#bcbcbc"/><circle cx="400.8" cy="301.8" r="2.1" stroke="#bcbcbc"/><circle cx="401.7" cy="304.3" r="2.1" stroke="#bcbcbc"/><circle cx="402.6" cy="306.7" r="2.1" stroke="#bcbcbc"/><circle cx="403.5" cy="309.1" r="2.1" stroke="#bcbcbc"/><circle cx="404.5" cy="311.6" r="2.1" stroke="#bcbcbc"/><circle cx="405.4" cy="314.0" r="2.1" stroke="#bcbcbc"/><circle cx="406.3" cy="316.4" r="2.1" stroke="#bcbcbc"/><circle cx="407.2" cy="318.8" r="2.1" stroke="#bcbcbc"/><circle cx="408.2" cy="321.3" r="2.1" stroke="#bcbcbc"/><circle cx="409.1" cy="323.7" r="2.1" stroke="#bcbcbc"/><circle cx="410.1" cy="326.1" r="2.1" stroke="#bcbcbc"/><circle cx="411.2" cy="328.4" r="2.1" stroke="#bcbcbc"/><circle cx="412.4" cy="330.8" r="2.1" stroke="#bcbcbc"/><circle cx="413.6" cy="333.1" r="2.1" stroke="#bcbcbc"/><circle cx="414.7" cy="335.4" r="2.1" stroke="#bcbcbc"/><circle cx="415.9" cy="337.7" r="2.1" stroke="#bcbcbc"/><circle cx="417.2" cy="340.0" r="2.1" stroke="#bcbcbc"/><circle cx="418.5" cy="342.2" r="2.1" stroke="#bcbcbc"/><circle cx="419.9" cy="344.4" r="2.1" stroke="#bcbcbc"/><circle cx="421.2" cy="346.7" r="2.1" stroke="#bcbcbc"/><circle cx="422.6" cy="348.9" r="2.1" stroke="#bcbcbc"/><circle cx="424.1" cy="351.0" r="2.1" stroke="#bcbcbc"/><circle cx="425.7" cy="353.1" r="2.1" stroke="#bcbcbc"/><circle cx="458.6" cy="374.6" r="2.1"/><circle cx="466.3" cy="382.2" r="2.1"/><circle cx="470.5" cy="382.2" r="2.1"/><circle cx="485.8" cy="385.6" r="2.1"/><circle cx="479.8" cy="389.8" r="2.1"/><circle cx="484.1" cy="389.8" r="2.1"/><circle cx="490.8" cy="389.8" r="2.1"/><circle cx="494.2" cy="389.8" r="2.1"/><circle cx="498.5" cy="389.8" r="2.1"/><circle cx="505.3" cy="389.8" r="2.1"/><circle cx="463.7" cy="396.6" r="2.1"/><circle cx="467.1" cy="396.6" r="2.1"/><circle cx="470.5" cy="396.6" r="2.1"/><circle cx="473.9" cy="396.6" r="2.1"/><circle cx="476.4" cy="396.6" r="2.1"/><circle cx="479.8" cy="396.6" r="2.1"/><circle cx="483.2" cy="396.6" r="2.1"/><circle cx="486.6" cy="396.6" r="2.1"/><circle cx="490.0" cy="396.6" r="2.1"/><circle cx="493.4" cy="396.6" r="2.1"/><circle cx="501.0" cy="396.6" r="2.1"/><circle cx="511.2" cy="396.6" r="2.1"/><circle cx="514.6" cy="396.6" r="2.1"/><circle cx="517.0" cy="396.6" r="2.1"/><circle cx="438.3" cy="353.2" r="2.1"/><circle cx="443.4" cy="359.2" r="2.1"/><circle cx="458.7" cy="374.0" r="2.1"/><circle cx="467.2" cy="381.7" r="2.1"/><circle cx="471.4" cy="382.5" r="2.1"/><circle cx="451.5" cy="366.5" r="2.1"/></g>
<path d="M397.20 280.00 L398.00 282.24 L398.80 284.47 L399.60 286.71 L400.40 288.94 L401.20 290.82 L402.00 292.59 L402.80 294.36 L403.60 296.12 L404.40 297.89 L405.20 299.66 L406.00 301.42 L406.80 303.19 L407.60 304.95 L408.40 306.72 L409.20 308.49 L410.00 310.25 L410.80 312.02 L411.60 313.79 L412.40 315.55 L413.20 317.32 L414.00 319.08 L414.80 320.85 L415.60 322.62 L416.40 324.12 L417.20 325.35 L418.00 326.59 L418.80 327.83 L419.60 329.06 L420.40 330.30 L421.20 331.54 L422.00 332.77 L422.80 334.01 L423.60 335.25 L424.40 336.48 L425.20 337.72 L426.00 338.95 L426.80 340.19 L427.60 341.35 L428.40 342.48 L429.20 343.62 L430.00 344.75 L430.80 345.88 L431.60 347.02 L432.40 348.15 L433.20 349.28 L434.00 350.42 L434.80 351.55 L435.60 352.68 L436.40 353.82 L437.20 354.95 L438.00 356.08 L438.80 357.22 L439.60 358.21 L440.40 359.15 L441.20 360.09 L442.00 361.03 L442.80 361.97 L443.60 362.91 L444.40 363.85 L445.20 364.79 L446.00 365.74 L446.80 366.68 L447.60 367.62 L448.40 368.56 L449.20 369.50 L450.00 370.13 L450.80 370.76 L451.60 371.39 L452.40 372.01 L453.20 372.64 L454.00 373.27 L454.80 373.90 L455.60 374.53 L456.40 375.16 L457.20 375.79 L458.00 376.41 L458.80 377.04 L459.60 377.67 L460.40 378.30 L461.20 378.95 L462.00 379.60 L462.80 380.24 L463.60 380.89 L464.40 381.54 L465.20 382.19 L466.00 382.83 L466.80 383.48 L467.60 384.13 L468.40 384.78 L469.20 385.40 L470.00 386.00 L470.80 386.61 L471.60 387.21 L472.40 387.81 L473.20 388.41 L474.00 389.02 L474.80 389.62 L475.60 390.22 L476.40 390.82 L477.20 391.42 L478.00 391.95 L478.80 392.47 L478.80 394.35 L478.00 394.33 L477.20 394.20 L476.40 393.90 L475.60 393.53 L474.80 393.08 L474.00 392.55 L473.20 391.95 L472.40 391.27 L471.60 390.51 L470.80 389.68 L470.00 388.77 L469.20 388.34 L468.40 387.89 L467.60 387.43 L466.80 386.96 L466.00 386.50 L465.20 386.03 L464.40 385.57 L463.60 385.11 L462.80 384.67 L462.00 384.29 L461.20 383.90 L460.40 383.52 L459.60 383.17 L458.80 382.84 L458.00 382.51 L457.20 382.17 L456.40 381.86 L455.60 381.60 L454.80 381.33 L454.00 381.07 L453.20 380.76 L452.40 380.37 L451.60 379.98 L450.80 379.59 L450.00 379.10 L449.20 378.31 L448.40 377.27 L447.60 376.24 L446.80 375.12 L446.00 373.96 L445.20 373.56 L444.40 373.12 L443.60 372.65 L442.80 372.14 L442.00 371.60 L441.20 371.01 L440.40 370.40 L439.60 369.76 L438.80 369.05 L438.00 368.22 L437.20 367.37 L436.40 366.48 L435.60 365.30 L434.80 363.84 L434.00 362.35 L433.20 360.81 L432.40 359.28 L431.60 357.74 L430.80 356.32 L430.00 355.00 L429.20 353.68 L428.40 352.37 L427.60 351.05 L426.80 349.72 L426.00 348.33 L425.20 346.91 L424.40 345.49 L423.60 344.07 L422.80 342.65 L422.00 341.24 L421.20 340.11 L420.40 338.97 L419.60 337.81 L418.80 336.64 L418.00 335.46 L417.20 334.27 L416.40 333.06 L415.60 331.74 L414.80 330.33 L414.00 328.93 L413.20 327.54 L412.40 326.15 L411.60 324.77 L410.80 323.39 L410.00 322.02 L409.20 320.58 L408.40 318.89 L407.60 317.20 L406.80 315.49 L406.00 313.78 L405.20 312.06 L404.40 310.33 L403.60 308.47 L402.80 306.49 L402.00 303.65 L401.20 300.53 L400.40 297.40 L399.60 294.25 L398.80 291.09 L398.00 286.51 L397.20 280.50Z" fill="#1010b8" stroke="none"/>
<path d="M397.20 280.50 L397.30 280.78 L397.40 281.06 L397.50 281.34 L397.60 281.62 L397.70 281.90 L397.80 282.18 L397.90 282.46 L398.00 282.74 L398.10 283.04 L398.20 283.37 L398.30 283.79 L398.40 284.34 L398.50 285.04 L398.60 285.92 L398.70 286.99 L398.80 288.21 L398.90 289.52 L399.00 290.83 L399.10 292.02 L399.20 292.98 L399.30 293.64 L399.40 293.93 L399.50 293.86 L399.60 293.46 L399.70 292.83 L399.80 292.07 L399.90 291.29 L400.00 290.60 L400.10 290.08 L400.20 289.74 L400.30 289.61 L400.40 289.64 L400.50 289.79 L400.60 290.02 L400.70 290.22 L400.80 290.44 L400.90 290.66 L401.00 290.88 L401.10 291.11 L401.20 291.34 L401.30 291.61 L401.40 291.96 L401.50 292.46 L401.60 293.18 L401.70 294.19 L401.80 295.51 L401.90 297.14 L402.00 299.01 L402.10 301.00 L402.20 302.93 L402.30 304.62 L402.40 305.88 L402.50 306.60 L402.60 306.68 L402.70 306.02 L402.80 304.88 L402.90 303.43 L403.00 301.85 L403.10 300.33 L403.20 299.02 L403.30 298.02 L403.40 297.34 L403.50 296.98 L403.60 296.86 L403.70 296.92 L403.80 297.08 L403.90 297.29 L404.00 297.51 L404.10 297.73 L404.20 297.95 L404.30 298.17 L404.40 298.42 L404.50 298.71 L404.60 299.13 L404.70 299.74 L404.80 300.63 L404.90 301.85 L405.00 303.43 L405.10 305.32 L405.20 307.42 L405.30 309.56 L405.40 311.55 L405.50 313.18 L405.60 314.28 L405.70 314.74 L405.80 314.51 L405.90 313.67 L406.00 312.35 L406.10 310.72 L406.20 309.01 L406.30 307.40 L406.40 306.04 L406.50 305.01 L406.60 304.34 L406.70 303.99 L406.80 303.90 L406.90 303.97 L407.00 304.14 L407.10 304.35 L407.20 304.57 L407.30 304.79 L407.40 305.01 L407.50 305.24 L407.60 305.49 L407.70 305.82 L407.80 306.28 L407.90 306.97 L408.00 307.97 L408.10 309.34 L408.20 311.09 L408.30 313.15 L408.40 315.41 L408.50 317.67 L408.60 319.72 L408.70 321.34 L408.80 322.37 L408.90 322.69 L409.00 322.30 L409.10 321.26 L409.20 319.75 L409.30 317.96 L409.40 316.12 L409.50 314.41 L409.60 313.00 L409.70 311.97 L409.80 311.32 L409.90 311.00 L410.00 310.93 L410.10 311.03 L410.20 311.20 L410.30 311.42 L410.40 311.64 L410.50 311.86 L410.60 312.08 L410.70 312.31 L410.80 312.57 L410.90 312.92 L411.00 313.42 L411.10 314.17 L411.20 315.24 L411.30 316.68 L411.40 318.48 L411.50 320.56 L411.60 322.78 L411.70 324.96 L411.80 326.87 L411.90 328.32 L412.00 329.14 L412.10 329.27 L412.20 328.72 L412.30 327.58 L412.40 326.02 L412.50 324.26 L412.60 322.50 L412.70 320.92 L412.80 319.66 L412.90 318.75 L413.00 318.21 L413.10 317.97 L413.20 317.96 L413.30 318.08 L413.40 318.27 L413.50 318.48 L413.60 318.70 L413.70 318.92 L413.80 319.14 L413.90 319.38 L414.00 319.65 L414.10 320.01 L414.20 320.54 L414.30 321.33 L414.40 322.42 L414.50 323.88 L414.60 325.66 L414.70 327.70 L414.80 329.83 L414.90 331.88 L415.00 333.64 L415.10 334.92 L415.20 335.59 L415.30 335.58 L415.40 334.94 L415.50 333.77 L415.60 332.24 L415.70 330.56 L415.80 328.92 L415.90 327.48 L416.00 326.35 L416.10 325.51 L416.20 325.00 L416.30 324.77 L416.40 324.72 L416.50 324.80 L416.60 324.93 L416.70 325.08 L416.80 325.24 L416.90 325.39 L417.00 325.55 L417.10 325.72 L417.20 325.94 L417.30 326.27 L417.40 326.78 L417.50 327.58 L417.60 328.71 L417.70 330.22 L417.80 332.08 L417.90 334.19 L418.00 336.39 L418.10 338.47 L418.20 340.22 L418.30 341.44 L418.40 342.00 L418.50 341.84 L418.60 341.00 L418.70 339.62 L418.80 337.86 L418.90 335.97 L419.00 334.14 L419.10 332.55 L419.20 331.30 L419.30 330.43 L419.40 329.92 L419.50 329.69 L419.60 329.66 L419.70 329.74 L419.80 329.88 L419.90 330.03 L420.00 330.18 L420.10 330.34 L420.20 330.49 L420.30 330.68 L420.40 330.92 L420.50 331.30 L420.60 331.91 L420.70 332.84 L420.80 334.16 L420.90 335.89 L421.00 337.99 L421.10 340.33 L421.20 342.73 L421.30 344.95 L421.40 346.76 L421.50 347.95 L421.60 348.38 L421.70 348.03 L421.80 346.96 L421.90 345.31 L422.00 343.32 L422.10 341.21 L422.20 339.22 L422.30 337.53 L422.40 336.22 L422.50 335.33 L422.60 334.82 L422.70 334.60 L422.80 334.59 L422.90 334.68 L423.00 334.82 L423.10 334.97 L423.20 335.13 L423.30 335.28 L423.40 335.44 L423.50 335.64 L423.60 335.91 L423.70 336.35 L423.80 337.07 L423.90 338.15 L424.00 339.67 L424.10 341.63 L424.20 343.98 L424.30 346.56 L424.40 349.14 L424.50 351.48 L424.60 353.32 L424.70 354.44 L424.80 354.73 L424.90 354.16 L425.00 352.83 L425.10 350.92 L425.20 348.68 L425.30 346.38 L425.40 344.25 L425.50 342.46 L425.60 341.11 L425.70 340.22 L425.80 339.72 L425.90 339.52 L426.00 339.52 L426.10 339.62 L426.20 339.76 L426.30 339.92 L426.40 340.07 L426.50 340.23 L426.60 340.39 L426.70 340.60 L426.80 340.92 L426.90 341.43 L427.00 342.26 L427.10 343.50 L427.20 345.21 L427.30 347.40 L427.40 349.98 L427.50 352.76 L427.60 355.49 L427.70 357.91 L427.80 359.72 L427.90 360.74 L428.00 360.83 L428.10 360.01 L428.20 358.40 L428.30 356.22 L428.40 353.74 L428.50 351.25 L428.60 348.98 L428.70 347.12 L428.80 345.74 L428.90 344.84 L429.00 344.35 L429.10 344.17 L429.20 344.17 L429.30 344.27 L429.40 344.40 L429.50 344.54 L429.60 344.68 L429.70 344.83 L429.80 344.99 L429.90 345.20 L430.00 345.55 L430.10 346.14 L430.20 347.09 L430.30 348.51 L430.40 350.46 L430.50 352.91 L430.60 355.74 L430.70 358.74 L430.80 361.64 L430.90 364.12 L431.00 365.91 L431.10 366.79 L431.20 366.68 L431.30 365.64 L431.40 363.79 L431.50 361.36 L431.60 358.65 L431.70 355.97 L431.80 353.58 L431.90 351.63 L432.00 350.22 L432.10 349.32 L432.20 348.84 L432.30 348.68 L432.40 348.69 L432.50 348.80 L432.60 348.93 L432.70 349.08 L432.80 349.22 L432.90 349.36 L433.00 349.53 L433.10 349.78 L433.20 350.20 L433.30 350.92 L433.40 352.08 L433.50 353.80 L433.60 356.13 L433.70 359.02 L433.80 362.32 L433.90 365.77 L434.00 369.04 L434.10 371.79 L434.20 373.68 L434.30 374.50 L434.40 374.14 L434.50 372.68 L434.60 370.33 L434.70 367.39 L434.80 364.21 L434.90 361.13 L435.00 358.44 L435.10 356.30 L435.20 354.78 L435.30 353.83 L435.40 353.35 L435.50 353.19 L435.60 353.22 L435.70 353.33 L435.80 353.47 L435.90 353.61 L436.00 353.75 L436.10 353.90 L436.20 354.08 L436.30 354.37 L436.40 354.88 L436.50 355.76 L436.60 357.17 L436.70 359.22 L436.80 361.94 L436.90 365.26 L437.00 368.99 L437.10 372.81 L437.20 376.34 L437.30 379.19 L437.40 381.04 L437.50 381.65 L437.60 380.97 L437.70 379.10 L437.80 376.30 L437.90 372.92 L438.00 369.36 L438.10 365.99 L438.20 363.09 L438.30 360.83 L438.40 359.26 L438.50 358.31 L438.60 357.84 L438.70 357.70 L438.80 357.74 L438.90 357.86 L439.00 358.00 L439.10 358.12 L439.20 358.24 L439.30 358.36 L439.40 358.54 L439.50 358.86 L439.60 359.46 L439.70 360.50 L439.80 362.16 L439.90 364.55 L440.00 367.69 L440.10 371.47 L440.20 375.64 L440.30 379.84 L440.40 383.64 L440.50 386.59 L440.60 388.37 L440.70 388.73 L440.80 387.67 L440.90 385.31 L441.00 381.99 L441.10 378.10 L441.20 374.10 L441.30 370.37 L441.40 367.21 L441.50 364.79 L441.60 363.14 L441.70 362.15 L441.80 361.67 L441.90 361.52 L442.00 361.55 L442.10 361.65 L442.20 361.76 L442.30 361.88 L442.40 362.00 L442.50 362.14 L442.60 362.35 L442.70 362.74 L442.80 363.48 L442.90 364.77 L443.00 366.78 L443.10 369.63 L443.20 373.31 L443.30 377.67 L443.40 382.40 L443.50 387.06 L443.60 391.16 L443.70 394.23 L443.80 395.90 L443.90 395.97 L444.00 394.44 L444.10 391.53 L444.20 387.60 L444.30 383.15 L444.40 378.65 L444.50 374.54 L444.60 371.14 L444.70 368.57 L444.80 366.86 L444.90 365.86 L445.00 365.40 L445.10 365.27 L445.20 365.31 L445.30 365.41 L445.40 365.53 L445.50 365.65 L445.60 365.77 L445.70 365.92 L445.80 366.17 L445.90 366.65 L446.00 367.58 L446.10 369.16 L446.20 371.58 L446.30 374.96 L446.40 379.25 L446.50 384.24 L446.60 389.56 L446.70 394.69 L446.80 399.08 L446.90 402.23 L447.00 403.74 L447.10 403.43 L447.20 401.35 L447.30 397.79 L447.40 393.16 L447.50 388.06 L447.60 383.05 L447.70 378.57 L447.80 374.94 L447.90 372.27 L448.00 370.53 L448.10 369.55 L448.20 369.12 L448.30 369.01 L448.40 369.07 L448.50 369.18 L448.60 369.29 L448.70 369.41 L448.80 369.54 L448.90 369.70 L449.00 370.00 L449.10 370.59 L449.20 371.69 L449.30 373.51 L449.40 376.26 L449.50 380.03 L449.60 384.74 L449.70 390.12 L449.80 395.74 L449.90 401.03 L450.00 405.41 L450.10 408.36 L450.20 409.50 L450.30 408.47 L450.40 405.65 L450.50 401.40 L450.60 396.25 L450.70 390.80 L450.80 385.59 L450.90 381.05 L451.00 377.46 L451.10 374.89 L451.20 373.25 L451.30 372.35 L451.40 371.96 L451.50 371.86 L451.60 371.89 L451.70 371.96 L451.80 372.04 L451.90 372.12 L452.00 372.21 L452.10 372.35 L452.20 372.64 L452.30 373.25 L452.40 374.38 L452.50 376.24 L452.60 378.98 L452.70 382.63 L452.80 387.06 L452.90 391.98 L453.00 396.96 L453.10 401.48 L453.20 405.03 L453.30 407.16 L453.40 407.62 L453.50 406.37 L453.60 403.51 L453.70 399.49 L453.80 394.80 L453.90 389.97 L454.00 385.46 L454.10 381.63 L454.20 378.67 L454.30 376.60 L454.40 375.32 L454.50 374.66 L454.60 374.39 L454.70 374.35 L454.80 374.40 L454.90 374.48 L455.00 374.56 L455.10 374.64 L455.20 374.73 L455.30 374.87 L455.40 375.17 L455.50 375.77 L455.60 376.83 L455.70 378.53 L455.80 380.96 L455.90 384.12 L456.00 387.88 L456.10 391.94 L456.20 395.95 L456.30 399.46 L456.40 402.08 L456.50 403.47 L456.60 403.49 L456.70 402.16 L456.80 399.65 L456.90 396.28 L457.00 392.45 L457.10 388.58 L457.20 385.05 L457.30 382.10 L457.40 379.87 L457.50 378.35 L457.60 377.44 L457.70 377.00 L457.80 376.85 L457.90 376.85 L458.00 376.92 L458.10 376.99 L458.20 377.07 L458.30 377.15 L458.40 377.24 L458.50 377.40 L458.60 377.69 L458.70 378.25 L458.80 379.22 L458.90 380.72 L459.00 382.81 L459.10 385.48 L459.20 388.60 L459.30 391.91 L459.40 395.10 L459.50 397.83 L459.60 399.77 L459.70 400.69 L459.80 400.49 L459.90 399.20 L460.00 397.02 L460.10 394.21 L460.20 391.11 L460.30 388.05 L460.40 385.30 L460.50 383.06 L460.60 381.41 L460.70 380.31 L460.80 379.69 L460.90 379.41 L461.00 379.34 L461.10 379.38 L461.20 379.45 L461.30 379.53 L461.40 379.61 L461.50 379.69 L461.60 379.79 L461.70 379.95 L461.80 380.23 L461.90 380.75 L462.00 381.61 L462.10 382.91 L462.20 384.68 L462.30 386.89 L462.40 389.42 L462.50 392.05 L462.60 394.53 L462.70 396.58 L462.80 397.96 L462.90 398.52 L463.00 398.19 L463.10 397.02 L463.20 395.22 L463.30 392.97 L463.40 390.54 L463.50 388.19 L463.60 386.12 L463.70 384.46 L463.80 383.26 L463.90 382.50 L464.00 382.09 L464.10 381.92 L464.20 381.91 L464.30 381.96 L464.40 382.04 L464.50 382.12 L464.60 382.20 L464.70 382.28 L464.80 382.38 L464.90 382.54 L465.00 382.81 L465.10 383.29 L465.20 384.06 L465.30 385.20 L465.40 386.71 L465.50 388.56 L465.60 390.64 L465.70 392.78 L465.80 394.75 L465.90 396.33 L466.00 397.36 L466.10 397.69 L466.20 397.31 L466.30 396.28 L466.40 394.73 L466.50 392.87 L466.60 390.92 L466.70 389.06 L466.80 387.47 L466.90 386.22 L467.00 385.35 L467.10 384.82 L467.20 384.55 L467.30 384.47 L467.40 384.48 L467.50 384.55 L467.60 384.63 L467.70 384.71 L467.80 384.79 L467.90 384.87 L468.00 384.98 L468.10 385.13 L468.20 385.39 L468.30 385.82 L468.40 386.49 L468.50 387.45 L468.60 388.70 L468.70 390.20 L468.80 391.84 L468.90 393.48 L469.00 394.96 L469.10 396.11 L469.20 396.79 L469.30 396.94 L469.40 396.53 L469.50 395.65 L469.60 394.40 L469.70 392.95 L469.80 391.46 L469.90 390.09 L470.00 388.93 L470.10 388.05 L470.20 387.46 L470.30 387.11 L470.40 386.96 L470.50 386.93 L470.60 386.96 L470.70 387.03 L470.80 387.11 L470.90 387.18 L471.00 387.26 L471.10 387.34 L471.20 387.43 L471.30 387.57 L471.40 387.80 L471.50 388.17 L471.60 388.72 L471.70 389.48 L471.80 390.46 L471.90 391.59 L472.00 392.81 L472.10 394.00 L472.20 395.04 L472.30 395.81 L472.40 396.23 L472.50 396.25 L472.60 395.88 L472.70 395.19 L472.80 394.26 L472.90 393.21 L473.00 392.17 L473.10 391.23 L473.20 390.47 L473.30 389.91 L473.40 389.55 L473.50 389.36 L473.60 389.30 L473.70 389.31 L473.80 389.37 L473.90 389.44 L474.00 389.52 L474.10 389.59 L474.20 389.67 L474.30 389.75 L474.40 389.84 L474.50 389.97 L474.60 390.16 L474.70 390.45 L474.80 390.86 L474.90 391.40 L475.00 392.07 L475.10 392.83 L475.20 393.62 L475.30 394.36 L475.40 394.99 L475.50 395.42 L475.60 395.63 L475.70 395.58 L475.80 395.31 L475.90 394.85 L476.00 394.27 L476.10 393.65 L476.20 393.05 L476.30 392.54 L476.40 392.14 L476.50 391.87 L476.60 391.71 L476.70 391.65 L476.80 391.66 L476.90 391.71 L477.00 391.78 L477.10 391.85 L477.20 391.92 L477.30 392.00 L477.40 392.07 L477.50 392.13 L477.60 392.21 L477.70 392.30 L477.80 392.43 L477.90 392.61 L478.00 392.84 L478.10 393.13 L478.20 393.46 L478.30 393.82 L478.40 394.18 L478.50 394.49 L478.60 394.73 L478.70 394.89 L478.80 394.93 L478.90 394.88 L479.00 394.74 L479.10 394.55 L479.20 394.34 L479.30 394.12 L479.40 393.94 L479.50 393.80 L479.60 393.71 L479.70 393.68 L479.80 393.68 L479.90 393.71 L480.00 393.76 L480.10 393.82 L480.20 393.88 L480.30 393.95 L480.40 394.01 L480.50 394.08 L480.60 394.14 L480.70 394.21 L480.80 394.27 L480.90 394.34" fill="none" stroke="#1010b8" stroke-width="1.75" stroke-linejoin="round"/>
<path d="M382.90 283.10 C383.10 282.25 383.53 279.70 384.10 278.00 C384.67 276.30 385.37 274.47 386.30 272.90 C387.23 271.33 388.37 269.65 389.70 268.60 C391.03 267.55 393.32 266.03 394.30 266.60 C395.28 267.17 395.12 269.68 395.60 272.00 C396.08 274.32 396.93 279.08 397.20 280.50" fill="none" stroke="#1010b8" stroke-width="1.9" stroke-linejoin="round" stroke-linecap="round"/>
<path d="M481.00 394.40 C482.08 394.73 485.30 395.77 487.50 396.40 C489.70 397.03 491.67 397.60 494.20 398.20 C496.73 398.80 499.87 399.42 502.70 400.00 C505.53 400.58 508.73 401.17 511.20 401.70 C513.67 402.23 516.45 402.95 517.50 403.20" fill="none" stroke="#1010b8" stroke-width="1.9" stroke-linejoin="round" stroke-linecap="round"/>
<rect x="369.40" y="244.30" width="148.40" height="188.20" fill="none" stroke="#000" stroke-width="2"/>
<path d="M381.20 432.50 v-4.20 M381.20 244.30 v4.20 M393.67 432.50 v-2.60 M393.67 244.30 v2.60 M406.14 432.50 v-4.20 M406.14 244.30 v4.20 M418.61 432.50 v-2.60 M418.61 244.30 v2.60 M431.08 432.50 v-4.20 M431.08 244.30 v4.20 M443.55 432.50 v-2.60 M443.55 244.30 v2.60 M456.02 432.50 v-4.20 M456.02 244.30 v4.20 M468.49 432.50 v-2.60 M468.49 244.30 v2.60 M480.96 432.50 v-4.20 M480.96 244.30 v4.20 M493.43 432.50 v-2.60 M493.43 244.30 v2.60 M505.90 432.50 v-4.20 M505.90 244.30 v4.20 M369.40 260.74 h2.30 M517.80 260.74 h-2.30 M369.40 256.60 h2.30 M517.80 256.60 h-2.30 M369.40 253.66 h2.30 M517.80 253.66 h-2.30 M369.40 251.38 h2.30 M517.80 251.38 h-2.30 M369.40 249.52 h2.30 M517.80 249.52 h-2.30 M369.40 247.94 h2.30 M517.80 247.94 h-2.30 M369.40 246.58 h2.30 M517.80 246.58 h-2.30 M369.40 245.38 h2.30 M517.80 245.38 h-2.30 M369.40 267.82 h4.50 M517.80 267.82 h-4.50 M369.40 284.27 h2.30 M517.80 284.27 h-2.30 M369.40 280.13 h2.30 M517.80 280.13 h-2.30 M369.40 277.19 h2.30 M517.80 277.19 h-2.30 M369.40 274.91 h2.30 M517.80 274.91 h-2.30 M369.40 273.04 h2.30 M517.80 273.04 h-2.30 M369.40 271.47 h2.30 M517.80 271.47 h-2.30 M369.40 270.10 h2.30 M517.80 270.10 h-2.30 M369.40 268.90 h2.30 M517.80 268.90 h-2.30 M369.40 291.35 h4.50 M517.80 291.35 h-4.50 M369.40 307.79 h2.30 M517.80 307.79 h-2.30 M369.40 303.65 h2.30 M517.80 303.65 h-2.30 M369.40 300.71 h2.30 M517.80 300.71 h-2.30 M369.40 298.43 h2.30 M517.80 298.43 h-2.30 M369.40 296.57 h2.30 M517.80 296.57 h-2.30 M369.40 294.99 h2.30 M517.80 294.99 h-2.30 M369.40 293.63 h2.30 M517.80 293.63 h-2.30 M369.40 292.43 h2.30 M517.80 292.43 h-2.30 M369.40 314.88 h4.50 M517.80 314.88 h-4.50 M369.40 331.32 h2.30 M517.80 331.32 h-2.30 M369.40 327.18 h2.30 M517.80 327.18 h-2.30 M369.40 324.24 h2.30 M517.80 324.24 h-2.30 M369.40 321.96 h2.30 M517.80 321.96 h-2.30 M369.40 320.09 h2.30 M517.80 320.09 h-2.30 M369.40 318.52 h2.30 M517.80 318.52 h-2.30 M369.40 317.15 h2.30 M517.80 317.15 h-2.30 M369.40 315.95 h2.30 M517.80 315.95 h-2.30 M369.40 338.40 h4.50 M517.80 338.40 h-4.50 M369.40 354.84 h2.30 M517.80 354.84 h-2.30 M369.40 350.70 h2.30 M517.80 350.70 h-2.30 M369.40 347.76 h2.30 M517.80 347.76 h-2.30 M369.40 345.48 h2.30 M517.80 345.48 h-2.30 M369.40 343.62 h2.30 M517.80 343.62 h-2.30 M369.40 342.04 h2.30 M517.80 342.04 h-2.30 M369.40 340.68 h2.30 M517.80 340.68 h-2.30 M369.40 339.48 h2.30 M517.80 339.48 h-2.30 M369.40 361.93 h4.50 M517.80 361.93 h-4.50 M369.40 378.37 h2.30 M517.80 378.37 h-2.30 M369.40 374.23 h2.30 M517.80 374.23 h-2.30 M369.40 371.29 h2.30 M517.80 371.29 h-2.30 M369.40 369.01 h2.30 M517.80 369.01 h-2.30 M369.40 367.14 h2.30 M517.80 367.14 h-2.30 M369.40 365.57 h2.30 M517.80 365.57 h-2.30 M369.40 364.20 h2.30 M517.80 364.20 h-2.30 M369.40 363.00 h2.30 M517.80 363.00 h-2.30 M369.40 385.45 h4.50 M517.80 385.45 h-4.50 M369.40 401.89 h2.30 M517.80 401.89 h-2.30 M369.40 397.75 h2.30 M517.80 397.75 h-2.30 M369.40 394.81 h2.30 M517.80 394.81 h-2.30 M369.40 392.53 h2.30 M517.80 392.53 h-2.30 M369.40 390.67 h2.30 M517.80 390.67 h-2.30 M369.40 389.09 h2.30 M517.80 389.09 h-2.30 M369.40 387.73 h2.30 M517.80 387.73 h-2.30 M369.40 386.53 h2.30 M517.80 386.53 h-2.30 M369.40 408.98 h4.50 M517.80 408.98 h-4.50 M369.40 425.42 h2.30 M517.80 425.42 h-2.30 M369.40 421.28 h2.30 M517.80 421.28 h-2.30 M369.40 418.34 h2.30 M517.80 418.34 h-2.30 M369.40 416.06 h2.30 M517.80 416.06 h-2.30 M369.40 414.19 h2.30 M517.80 414.19 h-2.30 M369.40 412.62 h2.30 M517.80 412.62 h-2.30 M369.40 411.25 h2.30 M517.80 411.25 h-2.30 M369.40 410.05 h2.30 M517.80 410.05 h-2.30" stroke="#000" stroke-width="1.3" fill="none"/>
<text x="381.20" y="448.00" font-size="11.4" text-anchor="middle" fill="#1a1a1a">0</text>
<text x="406.14" y="448.00" font-size="11.4" text-anchor="middle" fill="#1a1a1a">1</text>
<text x="431.08" y="448.00" font-size="11.4" text-anchor="middle" fill="#1a1a1a">2</text>
<text x="456.02" y="448.00" font-size="11.4" text-anchor="middle" fill="#1a1a1a">3</text>
<text x="480.96" y="448.00" font-size="11.4" text-anchor="middle" fill="#1a1a1a">4</text>
<text x="505.90" y="448.00" font-size="11.4" text-anchor="middle" fill="#1a1a1a">5</text>
<text x="443.80" y="468.00" font-size="12.65" text-anchor="middle" fill="#1a1a1a">2 theta (deg)</text>
<text transform="translate(358.40 338.90) rotate(-90)" font-size="12.5" text-anchor="middle" fill="#1a1a1a">Intensity (a.u.)</text>
<text x="354.00" y="249.10" class="pl" font-size="17" font-weight="bold" fill="#000">e</text>
<rect x="440.90" y="254.10" width="70.30" height="23.30" fill="#fff" stroke="#a8a8a8" stroke-width="0.8"/>
<circle cx="452.20" cy="260.40" r="2.2" fill="#fff" stroke="#a2a2a2" stroke-width="0.8"/>
<path d="M442.40 271.30 h19.5" stroke="#1010b8" stroke-width="1.4"/>
<text x="464.90" y="263.50" font-size="9" fill="#1a1a1a">Experiment</text>
<text x="464.90" y="274.30" font-size="9" fill="#1a1a1a">Fitting</text>
<text transform="translate(371.00 421.60) scale(1.0340 1)" font-size="9.65" fill="#1a1a1a">VO<tspan font-size="6" dy="2.3">2</tspan><tspan dy="-2.3">(5.3 nm)/TiO</tspan><tspan font-size="6" dy="2.3">2</tspan><tspan dy="-2.3">(80.1 nm)/MgF</tspan><tspan font-size="6" dy="2.3">2</tspan></text>
</svg>
</body></html>
